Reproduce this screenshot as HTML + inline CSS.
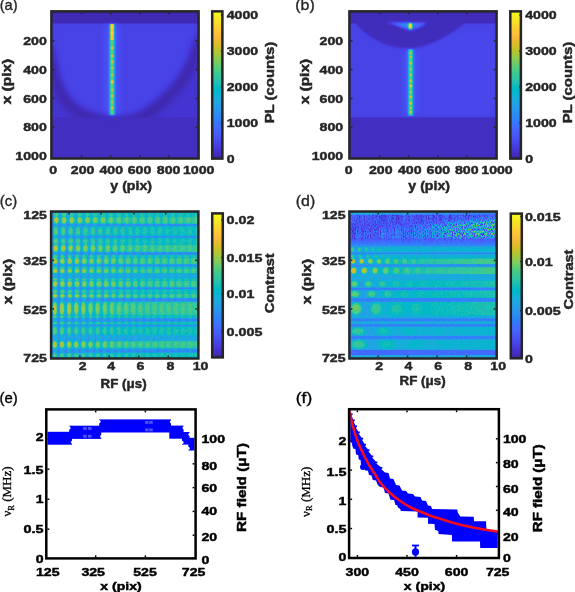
<!DOCTYPE html>
<html><head><meta charset="utf-8"><style>
html,body{margin:0;padding:0;background:#fff;width:575px;height:592px;overflow:hidden}
svg{display:block;filter:blur(0.35px)}
text{font-family:"Liberation Sans", sans-serif}
</style></head><body>
<svg width="575" height="592" viewBox="0 0 575 592">
<defs><linearGradient id="parv" x1="0" y1="0" x2="0" y2="1"><stop offset="0.0000" stop-color="#f9fb15"/><stop offset="0.0159" stop-color="#f7f51b"/><stop offset="0.0317" stop-color="#f6ef20"/><stop offset="0.0476" stop-color="#f5e924"/><stop offset="0.0635" stop-color="#f5e327"/><stop offset="0.0794" stop-color="#f7dc2a"/><stop offset="0.0952" stop-color="#fad62d"/><stop offset="0.1111" stop-color="#fccf30"/><stop offset="0.1270" stop-color="#fec934"/><stop offset="0.1429" stop-color="#fec338"/><stop offset="0.1587" stop-color="#febe3c"/><stop offset="0.1746" stop-color="#f8ba3d"/><stop offset="0.1905" stop-color="#f0ba36"/><stop offset="0.2063" stop-color="#e6bb2d"/><stop offset="0.2222" stop-color="#dcbd29"/><stop offset="0.2381" stop-color="#d1bf27"/><stop offset="0.2540" stop-color="#c5c22a"/><stop offset="0.2698" stop-color="#b9c431"/><stop offset="0.2857" stop-color="#abc739"/><stop offset="0.3016" stop-color="#9dc943"/><stop offset="0.3175" stop-color="#8fcb4e"/><stop offset="0.3333" stop-color="#81cc59"/><stop offset="0.3492" stop-color="#72cd64"/><stop offset="0.3651" stop-color="#64cd6f"/><stop offset="0.3810" stop-color="#57cc7a"/><stop offset="0.3968" stop-color="#4acb84"/><stop offset="0.4127" stop-color="#3fca8e"/><stop offset="0.4286" stop-color="#37c897"/><stop offset="0.4444" stop-color="#31c69f"/><stop offset="0.4603" stop-color="#2cc4a7"/><stop offset="0.4762" stop-color="#24c1ae"/><stop offset="0.4921" stop-color="#19bfb6"/><stop offset="0.5079" stop-color="#0bbdbd"/><stop offset="0.5238" stop-color="#02bac3"/><stop offset="0.5397" stop-color="#01b8ca"/><stop offset="0.5556" stop-color="#08b5d0"/><stop offset="0.5714" stop-color="#12b1d6"/><stop offset="0.5873" stop-color="#18addb"/><stop offset="0.6032" stop-color="#1ca9df"/><stop offset="0.6190" stop-color="#20a5e3"/><stop offset="0.6349" stop-color="#23a0e5"/><stop offset="0.6508" stop-color="#259be8"/><stop offset="0.6667" stop-color="#2797eb"/><stop offset="0.6825" stop-color="#2b91ef"/><stop offset="0.6984" stop-color="#2d8cf3"/><stop offset="0.7143" stop-color="#2e87f7"/><stop offset="0.7302" stop-color="#2f81fa"/><stop offset="0.7460" stop-color="#327cfc"/><stop offset="0.7619" stop-color="#3875fe"/><stop offset="0.7778" stop-color="#3e6fff"/><stop offset="0.7937" stop-color="#4269fe"/><stop offset="0.8095" stop-color="#4563fd"/><stop offset="0.8254" stop-color="#465efb"/><stop offset="0.8413" stop-color="#4758f8"/><stop offset="0.8571" stop-color="#4852f4"/><stop offset="0.8730" stop-color="#484df0"/><stop offset="0.8889" stop-color="#4747eb"/><stop offset="0.9048" stop-color="#4741e5"/><stop offset="0.9206" stop-color="#463cde"/><stop offset="0.9365" stop-color="#4537d5"/><stop offset="0.9524" stop-color="#4332cb"/><stop offset="0.9683" stop-color="#422ec0"/><stop offset="0.9841" stop-color="#402ab4"/><stop offset="1.0000" stop-color="#3e26a8"/></linearGradient>
<filter id="b1" x="-100%" y="-100%" width="300%" height="300%" color-interpolation-filters="sRGB"><feGaussianBlur stdDeviation="1"/></filter>
<filter id="b2" x="-100%" y="-100%" width="300%" height="300%" color-interpolation-filters="sRGB"><feGaussianBlur stdDeviation="2"/></filter>
<filter id="b3" x="-100%" y="-100%" width="300%" height="300%" color-interpolation-filters="sRGB"><feGaussianBlur stdDeviation="3"/></filter>
<filter id="b4" x="-100%" y="-100%" width="300%" height="300%" color-interpolation-filters="sRGB"><feGaussianBlur stdDeviation="4"/></filter>
<filter id="b05" x="-100%" y="-100%" width="300%" height="300%" color-interpolation-filters="sRGB"><feGaussianBlur stdDeviation="0.6"/></filter>
<filter id="pmap" filterUnits="userSpaceOnUse" x="0" y="0" width="575" height="592" color-interpolation-filters="sRGB"><feGaussianBlur stdDeviation="0.45"/><feComponentTransfer><feFuncR type="table" tableValues="0.2422 0.2504 0.2578 0.2647 0.2706 0.2751 0.2783 0.2803 0.2813 0.2810 0.2795 0.2760 0.2699 0.2602 0.2440 0.2206 0.1963 0.1834 0.1786 0.1764 0.1687 0.1540 0.1460 0.1380 0.1248 0.1113 0.0952 0.0689 0.0297 0.0036 0.0067 0.0433 0.0964 0.1408 0.1717 0.1938 0.2161 0.2470 0.2906 0.3406 0.3909 0.4456 0.5044 0.5616 0.6174 0.6720 0.7242 0.7738 0.8203 0.8634 0.9035 0.9393 0.9728 0.9956 0.9970 0.9952 0.9892 0.9786 0.9676 0.9610 0.9597 0.9628 0.9691 0.9769"/><feFuncG type="table" tableValues="0.1504 0.1650 0.1818 0.1978 0.2147 0.2342 0.2559 0.2782 0.3006 0.3228 0.3447 0.3667 0.3892 0.4123 0.4358 0.4603 0.4847 0.5074 0.5289 0.5499 0.5703 0.5902 0.6091 0.6276 0.6459 0.6635 0.6798 0.6948 0.7082 0.7203 0.7312 0.7411 0.7500 0.7584 0.7670 0.7758 0.7843 0.7918 0.7973 0.8008 0.8029 0.8024 0.7993 0.7942 0.7876 0.7793 0.7698 0.7598 0.7498 0.7406 0.7330 0.7288 0.7298 0.7434 0.7659 0.7893 0.8136 0.8386 0.8639 0.8890 0.9135 0.9373 0.9606 0.9839"/><feFuncB type="table" tableValues="0.6603 0.7076 0.7511 0.7952 0.8364 0.8710 0.8991 0.9221 0.9414 0.9579 0.9717 0.9829 0.9906 0.9952 0.9988 0.9973 0.9892 0.9798 0.9682 0.9520 0.9359 0.9218 0.9079 0.8973 0.8883 0.8763 0.8598 0.8394 0.8163 0.7917 0.7660 0.7394 0.7120 0.6842 0.6554 0.6251 0.5923 0.5567 0.5188 0.4789 0.4354 0.3909 0.3480 0.3045 0.2612 0.2227 0.1910 0.1646 0.1535 0.1596 0.1774 0.2100 0.2394 0.2371 0.2199 0.2028 0.1885 0.1766 0.1643 0.1537 0.1423 0.1265 0.1064 0.0805"/></feComponentTransfer></filter>
<filter id="pmap2" filterUnits="userSpaceOnUse" x="0" y="0" width="575" height="592" color-interpolation-filters="sRGB"><feGaussianBlur stdDeviation="0.7"/><feComponentTransfer><feFuncR type="table" tableValues="0.2422 0.2504 0.2578 0.2647 0.2706 0.2751 0.2783 0.2803 0.2813 0.2810 0.2795 0.2760 0.2699 0.2602 0.2440 0.2206 0.1963 0.1834 0.1786 0.1764 0.1687 0.1540 0.1460 0.1380 0.1248 0.1113 0.0952 0.0689 0.0297 0.0036 0.0067 0.0433 0.0964 0.1408 0.1717 0.1938 0.2161 0.2470 0.2906 0.3406 0.3909 0.4456 0.5044 0.5616 0.6174 0.6720 0.7242 0.7738 0.8203 0.8634 0.9035 0.9393 0.9728 0.9956 0.9970 0.9952 0.9892 0.9786 0.9676 0.9610 0.9597 0.9628 0.9691 0.9769"/><feFuncG type="table" tableValues="0.1504 0.1650 0.1818 0.1978 0.2147 0.2342 0.2559 0.2782 0.3006 0.3228 0.3447 0.3667 0.3892 0.4123 0.4358 0.4603 0.4847 0.5074 0.5289 0.5499 0.5703 0.5902 0.6091 0.6276 0.6459 0.6635 0.6798 0.6948 0.7082 0.7203 0.7312 0.7411 0.7500 0.7584 0.7670 0.7758 0.7843 0.7918 0.7973 0.8008 0.8029 0.8024 0.7993 0.7942 0.7876 0.7793 0.7698 0.7598 0.7498 0.7406 0.7330 0.7288 0.7298 0.7434 0.7659 0.7893 0.8136 0.8386 0.8639 0.8890 0.9135 0.9373 0.9606 0.9839"/><feFuncB type="table" tableValues="0.6603 0.7076 0.7511 0.7952 0.8364 0.8710 0.8991 0.9221 0.9414 0.9579 0.9717 0.9829 0.9906 0.9952 0.9988 0.9973 0.9892 0.9798 0.9682 0.9520 0.9359 0.9218 0.9079 0.8973 0.8883 0.8763 0.8598 0.8394 0.8163 0.7917 0.7660 0.7394 0.7120 0.6842 0.6554 0.6251 0.5923 0.5567 0.5188 0.4789 0.4354 0.3909 0.3480 0.3045 0.2612 0.2227 0.1910 0.1646 0.1535 0.1596 0.1774 0.2100 0.2394 0.2371 0.2199 0.2028 0.1885 0.1766 0.1643 0.1537 0.1423 0.1265 0.1064 0.0805"/></feComponentTransfer></filter>
<filter id="noiseD" x="0" y="0" width="100%" height="100%" color-interpolation-filters="sRGB"><feTurbulence type="fractalNoise" baseFrequency="0.85 0.55" numOctaves="2" seed="7" result="n"/><feColorMatrix in="n" type="matrix" values="0.7000 0 0 0 -0.2150 0.7000 0 0 0 -0.2150 0.7000 0 0 0 -0.2150 0 0 0 0 1"/></filter>
<filter id="noiseS" x="0" y="0" width="100%" height="100%" color-interpolation-filters="sRGB"><feTurbulence type="fractalNoise" baseFrequency="1.0 0.04" numOctaves="2" seed="5" result="n"/><feColorMatrix in="n" type="matrix" values="0.8000 0 0 0 -0.2500 0.8000 0 0 0 -0.2500 0.8000 0 0 0 -0.2500 0.0000 0 0 0 0.4500"/></filter>
<filter id="noiseY" x="0" y="0" width="100%" height="100%" color-interpolation-filters="sRGB"><feTurbulence type="fractalNoise" baseFrequency="0.9 0.45" numOctaves="2" seed="11" result="n"/><feColorMatrix in="n" type="matrix" values="0.8000 0 0 0 0.3600 0.8000 0 0 0 0.3600 0.8000 0 0 0 0.3600 4.0000 0 0 0 -1.4500"/></filter>
<linearGradient id="gdy" x1="0" y1="0" x2="1" y2="0"><stop offset="0" stop-color="#fff" stop-opacity="0.1"/><stop offset="0.45" stop-color="#fff" stop-opacity="0.2"/><stop offset="0.7" stop-color="#fff" stop-opacity="0.6"/><stop offset="1" stop-color="#fff" stop-opacity="0.7"/></linearGradient>
<mask id="mk_dy" maskUnits="userSpaceOnUse" x="340" y="200" width="170" height="60"><polygon points="350,232 497,218 497,238 350,246" fill="url(#gdy)" filter="url(#b2)"/></mask>
<filter id="texL" x="0" y="0" width="100%" height="100%" color-interpolation-filters="sRGB"><feTurbulence type="fractalNoise" baseFrequency="0.8 0.5" numOctaves="2" seed="21" result="n"/><feColorMatrix in="n" type="matrix" values="0 0 0 0 0.9000 0 0 0 0 0.9000 0 0 0 0 0.9000 2.2000 0 0 0 -1.0500"/></filter>
<filter id="texD" x="0" y="0" width="100%" height="100%" color-interpolation-filters="sRGB"><feTurbulence type="fractalNoise" baseFrequency="0.8 0.5" numOctaves="2" seed="33" result="n"/><feColorMatrix in="n" type="matrix" values="0 0 0 0 0.1500 0 0 0 0 0.1500 0 0 0 0 0.1500 2.2000 0 0 0 -1.0500"/></filter>
<clipPath id="clipa"><rect x="51.40" y="11.35" width="147.20" height="147.15"/></clipPath>
<clipPath id="clipb"><rect x="349.40" y="11.35" width="147.20" height="147.15"/></clipPath>
<radialGradient id="lensg" cx="0.5" cy="0.25" r="0.6"><stop offset="0" stop-color="#666666"/><stop offset="0.3" stop-color="#3d3d3d"/><stop offset="1" stop-color="#1f1f1f"/></radialGradient>
<clipPath id="clip_c"><rect x="51.10" y="211.50" width="147.30" height="147.00"/></clipPath>
<linearGradient id="bg_c_bright" x1="0" y1="0" x2="1" y2="0"><stop offset="0.000" stop-color="#616161"/><stop offset="0.400" stop-color="#808080"/><stop offset="1.000" stop-color="#8c8c8c"/></linearGradient>
<linearGradient id="bg_c_dim" x1="0" y1="0" x2="1" y2="0"><stop offset="0.000" stop-color="#5e5e5e"/><stop offset="0.400" stop-color="#737373"/><stop offset="1.000" stop-color="#7a7a7a"/></linearGradient>
<linearGradient id="fade_c" x1="0" y1="0" x2="1" y2="0"><stop offset="0.000" stop-color="#fff" stop-opacity="1.000"/><stop offset="0.300" stop-color="#fff" stop-opacity="0.700"/><stop offset="0.600" stop-color="#fff" stop-opacity="0.400"/><stop offset="1.000" stop-color="#fff" stop-opacity="0.250"/></linearGradient>
<mask id="mk_c" maskUnits="userSpaceOnUse" x="46.10" y="206.50" width="157.30" height="157.00"><rect x="51.10" y="206.50" width="147.30" height="157.00" fill="url(#fade_c)"/></mask>
<pattern id="vt1" patternUnits="userSpaceOnUse" x="58.300" y="0" width="7.300" height="600"><rect x="0" y="0" width="1.600" height="600" fill="#454545"/></pattern>
<radialGradient id="gpr2"><stop offset="0" stop-color="#a3a3a3"/><stop offset="0.55" stop-color="#a3a3a3" stop-opacity="0.9"/><stop offset="1" stop-color="#a3a3a3" stop-opacity="0"/></radialGradient>
<pattern id="gp2" patternUnits="userSpaceOnUse" x="52.510" y="212.800" width="7.780" height="3.800"><ellipse cx="3.890" cy="1.900" rx="3.423" ry="2.432" fill="url(#gpr2)"/></pattern>
<radialGradient id="gpr3"><stop offset="0" stop-color="#c4c4c4"/><stop offset="0.55" stop-color="#c4c4c4" stop-opacity="0.9"/><stop offset="1" stop-color="#c4c4c4" stop-opacity="0"/></radialGradient>
<pattern id="gp3" patternUnits="userSpaceOnUse" x="52.510" y="216.600" width="7.780" height="7.200"><ellipse cx="3.890" cy="3.600" rx="3.423" ry="4.608" fill="url(#gpr3)"/></pattern>
<radialGradient id="gpr4"><stop offset="0" stop-color="#6b6b6b"/><stop offset="0.55" stop-color="#6b6b6b" stop-opacity="0.9"/><stop offset="1" stop-color="#6b6b6b" stop-opacity="0"/></radialGradient>
<pattern id="gp4" patternUnits="userSpaceOnUse" x="52.510" y="223.900" width="7.780" height="2.400"><ellipse cx="3.890" cy="1.200" rx="3.423" ry="1.536" fill="url(#gpr4)"/></pattern>
<radialGradient id="gpr5"><stop offset="0" stop-color="#a3a3a3"/><stop offset="0.55" stop-color="#a3a3a3" stop-opacity="0.9"/><stop offset="1" stop-color="#a3a3a3" stop-opacity="0"/></radialGradient>
<pattern id="gp5" patternUnits="userSpaceOnUse" x="52.075" y="226.400" width="7.450" height="9.400"><ellipse cx="3.725" cy="4.700" rx="3.278" ry="6.016" fill="url(#gpr5)"/></pattern>
<radialGradient id="gpr6"><stop offset="0" stop-color="#6b6b6b"/><stop offset="0.55" stop-color="#6b6b6b" stop-opacity="0.9"/><stop offset="1" stop-color="#6b6b6b" stop-opacity="0"/></radialGradient>
<pattern id="gp6" patternUnits="userSpaceOnUse" x="52.075" y="235.900" width="7.450" height="2.100"><ellipse cx="3.725" cy="1.050" rx="3.278" ry="1.344" fill="url(#gpr6)"/></pattern>
<radialGradient id="gpr7"><stop offset="0" stop-color="#a3a3a3"/><stop offset="0.55" stop-color="#a3a3a3" stop-opacity="0.9"/><stop offset="1" stop-color="#a3a3a3" stop-opacity="0"/></radialGradient>
<pattern id="gp7" patternUnits="userSpaceOnUse" x="52.075" y="238.100" width="7.450" height="6.500"><ellipse cx="3.725" cy="3.250" rx="3.278" ry="4.160" fill="url(#gpr7)"/></pattern>
<radialGradient id="gpr8"><stop offset="0" stop-color="#c4c4c4"/><stop offset="0.55" stop-color="#c4c4c4" stop-opacity="0.9"/><stop offset="1" stop-color="#c4c4c4" stop-opacity="0"/></radialGradient>
<pattern id="gp8" patternUnits="userSpaceOnUse" x="52.075" y="244.600" width="7.450" height="7.400"><ellipse cx="3.725" cy="3.700" rx="3.278" ry="4.736" fill="url(#gpr8)"/></pattern>
<radialGradient id="gpr9"><stop offset="0" stop-color="#6b6b6b"/><stop offset="0.55" stop-color="#6b6b6b" stop-opacity="0.9"/><stop offset="1" stop-color="#6b6b6b" stop-opacity="0"/></radialGradient>
<pattern id="gp9" patternUnits="userSpaceOnUse" x="52.075" y="252.100" width="7.450" height="2.800"><ellipse cx="3.725" cy="1.400" rx="3.278" ry="1.792" fill="url(#gpr9)"/></pattern>
<radialGradient id="gpr10"><stop offset="0" stop-color="#a3a3a3"/><stop offset="0.55" stop-color="#a3a3a3" stop-opacity="0.9"/><stop offset="1" stop-color="#a3a3a3" stop-opacity="0"/></radialGradient>
<pattern id="gp10" patternUnits="userSpaceOnUse" x="51.460" y="255.000" width="7.280" height="2.800"><ellipse cx="3.640" cy="1.400" rx="3.203" ry="1.792" fill="url(#gpr10)"/></pattern>
<radialGradient id="gpr11"><stop offset="0" stop-color="#c4c4c4"/><stop offset="0.55" stop-color="#c4c4c4" stop-opacity="0.9"/><stop offset="1" stop-color="#c4c4c4" stop-opacity="0"/></radialGradient>
<pattern id="gp11" patternUnits="userSpaceOnUse" x="51.460" y="257.800" width="7.280" height="6.400"><ellipse cx="3.640" cy="3.200" rx="3.203" ry="4.096" fill="url(#gpr11)"/></pattern>
<radialGradient id="gpr12"><stop offset="0" stop-color="#6b6b6b"/><stop offset="0.55" stop-color="#6b6b6b" stop-opacity="0.9"/><stop offset="1" stop-color="#6b6b6b" stop-opacity="0"/></radialGradient>
<pattern id="gp12" patternUnits="userSpaceOnUse" x="51.460" y="264.400" width="7.280" height="2.200"><ellipse cx="3.640" cy="1.100" rx="3.203" ry="1.408" fill="url(#gpr12)"/></pattern>
<radialGradient id="gpr13"><stop offset="0" stop-color="#a3a3a3"/><stop offset="0.55" stop-color="#a3a3a3" stop-opacity="0.9"/><stop offset="1" stop-color="#a3a3a3" stop-opacity="0"/></radialGradient>
<pattern id="gp13" patternUnits="userSpaceOnUse" x="51.460" y="266.700" width="7.280" height="1.700"><ellipse cx="3.640" cy="0.850" rx="3.203" ry="1.088" fill="url(#gpr13)"/></pattern>
<radialGradient id="gpr14"><stop offset="0" stop-color="#c4c4c4"/><stop offset="0.55" stop-color="#c4c4c4" stop-opacity="0.9"/><stop offset="1" stop-color="#c4c4c4" stop-opacity="0"/></radialGradient>
<pattern id="gp14" patternUnits="userSpaceOnUse" x="51.460" y="268.400" width="7.280" height="5.000"><ellipse cx="3.640" cy="2.500" rx="3.203" ry="3.200" fill="url(#gpr14)"/></pattern>
<radialGradient id="gpr15"><stop offset="0" stop-color="#a3a3a3"/><stop offset="0.55" stop-color="#a3a3a3" stop-opacity="0.9"/><stop offset="1" stop-color="#a3a3a3" stop-opacity="0"/></radialGradient>
<pattern id="gp15" patternUnits="userSpaceOnUse" x="51.460" y="278.200" width="7.280" height="2.400"><ellipse cx="3.640" cy="1.200" rx="3.203" ry="1.536" fill="url(#gpr15)"/></pattern>
<radialGradient id="gpr16"><stop offset="0" stop-color="#c4c4c4"/><stop offset="0.55" stop-color="#c4c4c4" stop-opacity="0.9"/><stop offset="1" stop-color="#c4c4c4" stop-opacity="0"/></radialGradient>
<pattern id="gp16" patternUnits="userSpaceOnUse" x="51.460" y="280.600" width="7.280" height="6.600"><ellipse cx="3.640" cy="3.300" rx="3.203" ry="4.224" fill="url(#gpr16)"/></pattern>
<radialGradient id="gpr17"><stop offset="0" stop-color="#6b6b6b"/><stop offset="0.55" stop-color="#6b6b6b" stop-opacity="0.9"/><stop offset="1" stop-color="#6b6b6b" stop-opacity="0"/></radialGradient>
<pattern id="gp17" patternUnits="userSpaceOnUse" x="51.460" y="287.300" width="7.280" height="2.000"><ellipse cx="3.640" cy="1.000" rx="3.203" ry="1.280" fill="url(#gpr17)"/></pattern>
<radialGradient id="gpr18"><stop offset="0" stop-color="#a3a3a3"/><stop offset="0.55" stop-color="#a3a3a3" stop-opacity="0.9"/><stop offset="1" stop-color="#a3a3a3" stop-opacity="0"/></radialGradient>
<pattern id="gp18" patternUnits="userSpaceOnUse" x="51.460" y="289.400" width="7.280" height="4.500"><ellipse cx="3.640" cy="2.250" rx="3.203" ry="2.880" fill="url(#gpr18)"/></pattern>
<radialGradient id="gpr19"><stop offset="0" stop-color="#c4c4c4"/><stop offset="0.55" stop-color="#c4c4c4" stop-opacity="0.9"/><stop offset="1" stop-color="#c4c4c4" stop-opacity="0"/></radialGradient>
<pattern id="gp19" patternUnits="userSpaceOnUse" x="51.460" y="293.900" width="7.280" height="3.900"><ellipse cx="3.640" cy="1.950" rx="3.203" ry="2.496" fill="url(#gpr19)"/></pattern>
<radialGradient id="gpr20"><stop offset="0" stop-color="#6b6b6b"/><stop offset="0.55" stop-color="#6b6b6b" stop-opacity="0.9"/><stop offset="1" stop-color="#6b6b6b" stop-opacity="0"/></radialGradient>
<pattern id="gp20" patternUnits="userSpaceOnUse" x="51.460" y="298.000" width="7.280" height="3.600"><ellipse cx="3.640" cy="1.800" rx="3.203" ry="2.304" fill="url(#gpr20)"/></pattern>
<radialGradient id="gpr21"><stop offset="0" stop-color="#c4c4c4"/><stop offset="0.55" stop-color="#c4c4c4" stop-opacity="0.9"/><stop offset="1" stop-color="#c4c4c4" stop-opacity="0"/></radialGradient>
<pattern id="gp21" patternUnits="userSpaceOnUse" x="51.240" y="301.800" width="7.120" height="13.800"><ellipse cx="3.560" cy="6.900" rx="3.133" ry="8.832" fill="url(#gpr21)"/></pattern>
<radialGradient id="gpr22"><stop offset="0" stop-color="#a3a3a3"/><stop offset="0.55" stop-color="#a3a3a3" stop-opacity="0.9"/><stop offset="1" stop-color="#a3a3a3" stop-opacity="0"/></radialGradient>
<pattern id="gp22" patternUnits="userSpaceOnUse" x="51.240" y="315.600" width="7.120" height="2.400"><ellipse cx="3.560" cy="1.200" rx="3.133" ry="1.536" fill="url(#gpr22)"/></pattern>
<radialGradient id="gpr23"><stop offset="0" stop-color="#6b6b6b"/><stop offset="0.55" stop-color="#6b6b6b" stop-opacity="0.9"/><stop offset="1" stop-color="#6b6b6b" stop-opacity="0"/></radialGradient>
<pattern id="gp23" patternUnits="userSpaceOnUse" x="51.240" y="318.200" width="7.120" height="3.500"><ellipse cx="3.560" cy="1.750" rx="3.133" ry="2.240" fill="url(#gpr23)"/></pattern>
<radialGradient id="gpr24"><stop offset="0" stop-color="#a3a3a3"/><stop offset="0.55" stop-color="#a3a3a3" stop-opacity="0.9"/><stop offset="1" stop-color="#a3a3a3" stop-opacity="0"/></radialGradient>
<pattern id="gp24" patternUnits="userSpaceOnUse" x="51.240" y="321.900" width="7.120" height="2.600"><ellipse cx="3.560" cy="1.300" rx="3.133" ry="1.664" fill="url(#gpr24)"/></pattern>
<radialGradient id="gpr25"><stop offset="0" stop-color="#6b6b6b"/><stop offset="0.55" stop-color="#6b6b6b" stop-opacity="0.9"/><stop offset="1" stop-color="#6b6b6b" stop-opacity="0"/></radialGradient>
<pattern id="gp25" patternUnits="userSpaceOnUse" x="51.240" y="324.600" width="7.120" height="1.900"><ellipse cx="3.560" cy="0.950" rx="3.133" ry="1.216" fill="url(#gpr25)"/></pattern>
<radialGradient id="gpr26"><stop offset="0" stop-color="#a3a3a3"/><stop offset="0.55" stop-color="#a3a3a3" stop-opacity="0.9"/><stop offset="1" stop-color="#a3a3a3" stop-opacity="0"/></radialGradient>
<pattern id="gp26" patternUnits="userSpaceOnUse" x="51.240" y="326.600" width="7.120" height="8.600"><ellipse cx="3.560" cy="4.300" rx="3.133" ry="5.504" fill="url(#gpr26)"/></pattern>
<radialGradient id="gpr27"><stop offset="0" stop-color="#c4c4c4"/><stop offset="0.55" stop-color="#c4c4c4" stop-opacity="0.9"/><stop offset="1" stop-color="#c4c4c4" stop-opacity="0"/></radialGradient>
<pattern id="gp27" patternUnits="userSpaceOnUse" x="51.240" y="341.000" width="7.120" height="7.200"><ellipse cx="3.560" cy="3.600" rx="3.133" ry="4.608" fill="url(#gpr27)"/></pattern>
<radialGradient id="gpr28"><stop offset="0" stop-color="#6b6b6b"/><stop offset="0.55" stop-color="#6b6b6b" stop-opacity="0.9"/><stop offset="1" stop-color="#6b6b6b" stop-opacity="0"/></radialGradient>
<pattern id="gp28" patternUnits="userSpaceOnUse" x="51.240" y="349.000" width="7.120" height="3.600"><ellipse cx="3.560" cy="1.800" rx="3.133" ry="2.304" fill="url(#gpr28)"/></pattern>
<radialGradient id="gpr29"><stop offset="0" stop-color="#a3a3a3"/><stop offset="0.55" stop-color="#a3a3a3" stop-opacity="0.9"/><stop offset="1" stop-color="#a3a3a3" stop-opacity="0"/></radialGradient>
<pattern id="gp29" patternUnits="userSpaceOnUse" x="51.240" y="353.000" width="7.120" height="4.500"><ellipse cx="3.560" cy="2.250" rx="3.133" ry="2.880" fill="url(#gpr29)"/></pattern>
<clipPath id="clip_d"><rect x="349.40" y="211.50" width="147.30" height="147.00"/></clipPath>
<linearGradient id="bg_d_bright" x1="0" y1="0" x2="1" y2="0"><stop offset="0.000" stop-color="#4f4f4f"/><stop offset="0.250" stop-color="#7a7a7a"/><stop offset="1.000" stop-color="#999999"/></linearGradient>
<linearGradient id="bg_d_mid" x1="0" y1="0" x2="1" y2="0"><stop offset="0.000" stop-color="#4f4f4f"/><stop offset="0.250" stop-color="#707070"/><stop offset="1.000" stop-color="#858585"/></linearGradient>
<linearGradient id="bg_d_dim" x1="0" y1="0" x2="1" y2="0"><stop offset="0.000" stop-color="#525252"/><stop offset="0.250" stop-color="#696969"/><stop offset="1.000" stop-color="#707070"/></linearGradient>
<linearGradient id="fade_d" x1="0" y1="0" x2="1" y2="0"><stop offset="0.000" stop-color="#fff" stop-opacity="1.000"/><stop offset="0.120" stop-color="#fff" stop-opacity="0.800"/><stop offset="0.300" stop-color="#fff" stop-opacity="0.350"/><stop offset="0.550" stop-color="#fff" stop-opacity="0.100"/><stop offset="1.000" stop-color="#fff" stop-opacity="0.000"/></linearGradient>
<mask id="mk_d" maskUnits="userSpaceOnUse" x="344.40" y="206.50" width="157.30" height="157.00"><rect x="349.40" y="206.50" width="147.30" height="157.00" fill="url(#fade_d)"/></mask>
<radialGradient id="gpr30"><stop offset="0" stop-color="#999999"/><stop offset="0.55" stop-color="#999999" stop-opacity="0.9"/><stop offset="1" stop-color="#999999" stop-opacity="0"/></radialGradient>
<pattern id="gp30" patternUnits="userSpaceOnUse" x="349.208" y="246.500" width="6.783" height="5.800"><ellipse cx="3.391" cy="2.900" rx="2.442" ry="3.480" fill="url(#gpr30)"/></pattern>
<radialGradient id="gpr31"><stop offset="0" stop-color="#999999"/><stop offset="0.55" stop-color="#999999" stop-opacity="0.9"/><stop offset="1" stop-color="#999999" stop-opacity="0"/></radialGradient>
<pattern id="gp31" patternUnits="userSpaceOnUse" x="349.043" y="254.500" width="7.533" height="4.000"><ellipse cx="3.766" cy="2.000" rx="2.712" ry="2.400" fill="url(#gpr31)"/></pattern>
<radialGradient id="gpr32"><stop offset="0" stop-color="#d6d6d6"/><stop offset="0.55" stop-color="#d6d6d6" stop-opacity="0.9"/><stop offset="1" stop-color="#d6d6d6" stop-opacity="0"/></radialGradient>
<pattern id="gp32" patternUnits="userSpaceOnUse" x="348.805" y="258.500" width="8.612" height="5.500"><ellipse cx="4.306" cy="2.750" rx="3.100" ry="3.300" fill="url(#gpr32)"/></pattern>
<radialGradient id="gpr33"><stop offset="0" stop-color="#d6d6d6"/><stop offset="0.55" stop-color="#d6d6d6" stop-opacity="0.9"/><stop offset="1" stop-color="#d6d6d6" stop-opacity="0"/></radialGradient>
<pattern id="gp33" patternUnits="userSpaceOnUse" x="348.348" y="267.200" width="10.689" height="6.800"><ellipse cx="5.345" cy="3.400" rx="3.848" ry="4.080" fill="url(#gpr33)"/></pattern>
<radialGradient id="gpr34"><stop offset="0" stop-color="#adadad"/><stop offset="0.55" stop-color="#adadad" stop-opacity="0.9"/><stop offset="1" stop-color="#adadad" stop-opacity="0"/></radialGradient>
<pattern id="gp34" patternUnits="userSpaceOnUse" x="347.652" y="280.500" width="13.856" height="6.800"><ellipse cx="6.928" cy="3.400" rx="4.988" ry="4.080" fill="url(#gpr34)"/></pattern>
<radialGradient id="gpr35"><stop offset="0" stop-color="#adadad"/><stop offset="0.55" stop-color="#adadad" stop-opacity="0.9"/><stop offset="1" stop-color="#adadad" stop-opacity="0"/></radialGradient>
<pattern id="gp35" patternUnits="userSpaceOnUse" x="347.101" y="290.500" width="16.359" height="7.100"><ellipse cx="8.179" cy="3.550" rx="5.889" ry="4.260" fill="url(#gpr35)"/></pattern>
<radialGradient id="gpr36"><stop offset="0" stop-color="#adadad"/><stop offset="0.55" stop-color="#adadad" stop-opacity="0.9"/><stop offset="1" stop-color="#adadad" stop-opacity="0"/></radialGradient>
<pattern id="gp36" patternUnits="userSpaceOnUse" x="346.290" y="302.000" width="20.047" height="13.500"><ellipse cx="10.024" cy="6.750" rx="7.217" ry="8.100" fill="url(#gpr36)"/></pattern>
<radialGradient id="gpr37"><stop offset="0" stop-color="#999999"/><stop offset="0.55" stop-color="#999999" stop-opacity="0.9"/><stop offset="1" stop-color="#999999" stop-opacity="0"/></radialGradient>
<pattern id="gp37" patternUnits="userSpaceOnUse" x="345.006" y="327.000" width="25.883" height="8.500"><ellipse cx="12.941" cy="4.250" rx="9.318" ry="5.100" fill="url(#gpr37)"/></pattern>
<radialGradient id="gpr38"><stop offset="0" stop-color="#999999"/><stop offset="0.55" stop-color="#999999" stop-opacity="0.9"/><stop offset="1" stop-color="#999999" stop-opacity="0"/></radialGradient>
<pattern id="gp38" patternUnits="userSpaceOnUse" x="344.343" y="339.500" width="28.893" height="10.000"><ellipse cx="14.447" cy="5.000" rx="10.402" ry="6.000" fill="url(#gpr38)"/></pattern>
<linearGradient id="dtop" x1="0" y1="0" x2="1" y2="0"><stop offset="0.000" stop-color="#808080"/><stop offset="0.500" stop-color="#6b6b6b"/><stop offset="1.000" stop-color="#4c4c4c"/></linearGradient>
<linearGradient id="dbot" x1="0" y1="0" x2="0" y2="1"><stop offset="0.000" stop-color="#1f1f1f"/><stop offset="1.000" stop-color="#525252"/></linearGradient>
<clipPath id="clip_e"><rect x="47.50" y="410.60" width="146.90" height="146.60"/></clipPath>
<clipPath id="clip_f"><rect x="350.30" y="410.40" width="147.40" height="146.40"/></clipPath></defs>
<g clip-path="url(#clipa)"><g filter="url(#pmap)">
<rect x="46.40" y="6.35" width="157.20" height="157.15" fill="#0f0f0f"/>
<path d="M51.00,40.00 C51.33,43.00 52.00,51.67 53.00,58.00 C54.00,64.33 55.17,72.00 57.00,78.00 C58.83,84.00 61.00,89.33 64.00,94.00 C67.00,98.67 70.33,102.50 75.00,106.00 C79.67,109.50 85.33,112.83 92.00,115.00 C98.67,117.17 107.83,119.00 115.00,119.00 C122.17,119.00 129.17,117.17 135.00,115.00 C140.83,112.83 145.17,109.50 150.00,106.00 C154.83,102.50 159.33,98.50 164.00,94.00 C168.67,89.50 173.83,84.33 178.00,79.00 C182.17,73.67 185.83,67.67 189.00,62.00 C192.17,56.33 195.33,50.33 197.00,45.00 C198.67,39.67 198.67,32.50 199.00,30.00 L199,20 L51,20 Z" fill="#1a1a1a" filter="url(#b3)"/>
<path d="M48.00,48.00 C48.50,50.00 49.83,55.00 51.00,60.00 C52.17,65.00 53.33,72.50 55.00,78.00 C56.67,83.50 58.50,88.50 61.00,93.00 C63.50,97.50 66.50,101.50 70.00,105.00 C73.50,108.50 77.00,111.50 82.00,114.00 C87.00,116.50 93.67,118.67 100.00,120.00 C106.33,121.33 113.33,122.33 120.00,122.00 C126.67,121.67 134.17,120.33 140.00,118.00 C145.83,115.67 150.17,111.67 155.00,108.00 C159.83,104.33 164.67,100.33 169.00,96.00 C173.33,91.67 177.50,86.83 181.00,82.00 C184.50,77.17 187.50,72.00 190.00,67.00 C192.50,62.00 194.33,56.83 196.00,52.00 C197.67,47.17 199.33,40.33 200.00,38.00" fill="none" stroke="#010101" stroke-width="10" filter="url(#b3)" opacity="0.95"/>
<rect x="46.40" y="117.30" width="157.20" height="46.20" fill="#090909"/>
<rect x="46.40" y="6.35" width="157.20" height="17.05" fill="#040404"/>
<rect x="105.10" y="25.40" width="14" height="88.10" fill="#333333" opacity="0.5" filter="url(#b3)"/>
<rect x="109.10" y="24.40" width="6" height="90.10" fill="#545454" opacity="0.85" filter="url(#b1)"/>
<rect x="109.70" y="23.90" width="4.8" height="91.10" fill="#787878" filter="url(#b05)"/>
<rect x="110.60" y="24.40" width="3.0" height="90.10" fill="#9e9e9e" filter="url(#b05)"/>
<rect x="110.60" y="24.00" width="3.0" height="16.00" fill="#d6d6d6" filter="url(#b05)"/>
<ellipse cx="112.10" cy="27.00" rx="1.5" ry="1.80" fill="#ebebeb" filter="url(#b05)"/>
<ellipse cx="112.10" cy="33.00" rx="1.5" ry="1.80" fill="#e6e6e6" filter="url(#b05)"/>
<ellipse cx="112.10" cy="38.00" rx="1.5" ry="1.60" fill="#dbdbdb" filter="url(#b05)"/>
<ellipse cx="112.10" cy="48.00" rx="1.5" ry="1.40" fill="#c7c7c7" filter="url(#b05)"/>
<ellipse cx="112.10" cy="56.00" rx="1.5" ry="1.40" fill="#c2c2c2" filter="url(#b05)"/>
<ellipse cx="112.10" cy="62.00" rx="1.5" ry="1.40" fill="#c7c7c7" filter="url(#b05)"/>
<ellipse cx="112.10" cy="68.00" rx="1.5" ry="1.30" fill="#bfbfbf" filter="url(#b05)"/>
<ellipse cx="112.10" cy="75.00" rx="1.5" ry="1.30" fill="#bdbdbd" filter="url(#b05)"/>
<ellipse cx="112.10" cy="82.00" rx="1.5" ry="1.80" fill="#dbdbdb" filter="url(#b05)"/>
<ellipse cx="112.10" cy="90.00" rx="1.5" ry="1.30" fill="#bfbfbf" filter="url(#b05)"/>
<ellipse cx="112.10" cy="96.00" rx="1.5" ry="1.40" fill="#c7c7c7" filter="url(#b05)"/>
<ellipse cx="112.10" cy="102.00" rx="1.5" ry="1.30" fill="#b8b8b8" filter="url(#b05)"/>
<ellipse cx="112.10" cy="108.00" rx="1.5" ry="1.40" fill="#c7c7c7" filter="url(#b05)"/>
</g></g>
<text x="53.20" y="174.20" font-size="11.60" font-weight="bold" text-anchor="middle" fill="#262626" stroke="#262626" stroke-width="0.45" textLength="7.86" lengthAdjust="spacingAndGlyphs">0</text>
<line x1="81.60" y1="157.30" x2="81.60" y2="155.50" stroke="#262626" stroke-width="1.50"/>
<line x1="81.60" y1="12.55" x2="81.60" y2="14.35" stroke="#262626" stroke-width="1.50"/>
<text x="82.60" y="174.20" font-size="11.60" font-weight="bold" text-anchor="middle" fill="#262626" stroke="#262626" stroke-width="0.45" textLength="23.59" lengthAdjust="spacingAndGlyphs">200</text>
<line x1="110.70" y1="157.30" x2="110.70" y2="155.50" stroke="#262626" stroke-width="1.50"/>
<line x1="110.70" y1="12.55" x2="110.70" y2="14.35" stroke="#262626" stroke-width="1.50"/>
<text x="111.30" y="174.20" font-size="11.60" font-weight="bold" text-anchor="middle" fill="#262626" stroke="#262626" stroke-width="0.45" textLength="23.59" lengthAdjust="spacingAndGlyphs">400</text>
<line x1="139.80" y1="157.30" x2="139.80" y2="155.50" stroke="#262626" stroke-width="1.50"/>
<line x1="139.80" y1="12.55" x2="139.80" y2="14.35" stroke="#262626" stroke-width="1.50"/>
<text x="139.50" y="174.20" font-size="11.60" font-weight="bold" text-anchor="middle" fill="#262626" stroke="#262626" stroke-width="0.45" textLength="23.59" lengthAdjust="spacingAndGlyphs">600</text>
<line x1="168.90" y1="157.30" x2="168.90" y2="155.50" stroke="#262626" stroke-width="1.50"/>
<line x1="168.90" y1="12.55" x2="168.90" y2="14.35" stroke="#262626" stroke-width="1.50"/>
<text x="168.60" y="174.20" font-size="11.60" font-weight="bold" text-anchor="middle" fill="#262626" stroke="#262626" stroke-width="0.45" textLength="23.59" lengthAdjust="spacingAndGlyphs">800</text>
<text x="198.70" y="174.20" font-size="11.60" font-weight="bold" text-anchor="middle" fill="#262626" stroke="#262626" stroke-width="0.45" textLength="31.46" lengthAdjust="spacingAndGlyphs">1000</text>
<line x1="52.60" y1="40.80" x2="54.40" y2="40.80" stroke="#262626" stroke-width="1.50"/>
<line x1="197.40" y1="40.80" x2="195.60" y2="40.80" stroke="#262626" stroke-width="1.50"/>
<text x="46.80" y="44.90" font-size="11.60" font-weight="bold" text-anchor="end" fill="#262626" stroke="#262626" stroke-width="0.45" textLength="23.59" lengthAdjust="spacingAndGlyphs">200</text>
<line x1="52.60" y1="69.60" x2="54.40" y2="69.60" stroke="#262626" stroke-width="1.50"/>
<line x1="197.40" y1="69.60" x2="195.60" y2="69.60" stroke="#262626" stroke-width="1.50"/>
<text x="46.80" y="73.70" font-size="11.60" font-weight="bold" text-anchor="end" fill="#262626" stroke="#262626" stroke-width="0.45" textLength="23.59" lengthAdjust="spacingAndGlyphs">400</text>
<line x1="52.60" y1="98.40" x2="54.40" y2="98.40" stroke="#262626" stroke-width="1.50"/>
<line x1="197.40" y1="98.40" x2="195.60" y2="98.40" stroke="#262626" stroke-width="1.50"/>
<text x="46.80" y="102.50" font-size="11.60" font-weight="bold" text-anchor="end" fill="#262626" stroke="#262626" stroke-width="0.45" textLength="23.59" lengthAdjust="spacingAndGlyphs">600</text>
<line x1="52.60" y1="127.20" x2="54.40" y2="127.20" stroke="#262626" stroke-width="1.50"/>
<line x1="197.40" y1="127.20" x2="195.60" y2="127.20" stroke="#262626" stroke-width="1.50"/>
<text x="46.80" y="131.30" font-size="11.60" font-weight="bold" text-anchor="end" fill="#262626" stroke="#262626" stroke-width="0.45" textLength="23.59" lengthAdjust="spacingAndGlyphs">800</text>
<text x="46.80" y="160.10" font-size="11.60" font-weight="bold" text-anchor="end" fill="#262626" stroke="#262626" stroke-width="0.45" textLength="31.46" lengthAdjust="spacingAndGlyphs">1000</text>
<rect x="51.40" y="11.35" width="147.20" height="147.15" fill="none" stroke="#262626" stroke-width="2.50"/>
<text x="131.20" y="189.50" font-size="12.20" font-weight="bold" text-anchor="middle" fill="#262626" stroke="#262626" stroke-width="0.45" textLength="41.70" lengthAdjust="spacingAndGlyphs">y (pix)</text>
<text x="11.30" y="81.60" font-size="12.20" font-weight="bold" text-anchor="middle" fill="#262626" stroke="#262626" stroke-width="0.45" textLength="45.50" lengthAdjust="spacingAndGlyphs" transform="rotate(-90 11.30 81.60)">x (pix)</text>
<rect x="212.20" y="11.35" width="10.20" height="147.25" fill="url(#parv)"/>
<line x1="220.80" y1="123.00" x2="222.40" y2="123.00" stroke="#262626" stroke-width="1.50"/>
<line x1="220.80" y1="86.80" x2="222.40" y2="86.80" stroke="#262626" stroke-width="1.50"/>
<line x1="220.80" y1="51.30" x2="222.40" y2="51.30" stroke="#262626" stroke-width="1.50"/>
<line x1="220.80" y1="15.10" x2="222.40" y2="15.10" stroke="#262626" stroke-width="1.50"/>
<rect x="212.20" y="11.35" width="10.20" height="147.25" fill="none" stroke="#262626" stroke-width="2.50"/>
<text x="226.70" y="163.10" font-size="11.60" font-weight="bold" text-anchor="start" fill="#262626" stroke="#262626" stroke-width="0.45" textLength="7.86" lengthAdjust="spacingAndGlyphs">0</text>
<text x="226.70" y="127.10" font-size="11.60" font-weight="bold" text-anchor="start" fill="#262626" stroke="#262626" stroke-width="0.45" textLength="31.46" lengthAdjust="spacingAndGlyphs">1000</text>
<text x="226.70" y="90.90" font-size="11.60" font-weight="bold" text-anchor="start" fill="#262626" stroke="#262626" stroke-width="0.45" textLength="31.46" lengthAdjust="spacingAndGlyphs">2000</text>
<text x="226.70" y="55.40" font-size="11.60" font-weight="bold" text-anchor="start" fill="#262626" stroke="#262626" stroke-width="0.45" textLength="31.46" lengthAdjust="spacingAndGlyphs">3000</text>
<text x="226.70" y="19.20" font-size="11.60" font-weight="bold" text-anchor="start" fill="#262626" stroke="#262626" stroke-width="0.45" textLength="31.46" lengthAdjust="spacingAndGlyphs">4000</text>
<text x="274.40" y="82.50" font-size="12.80" font-weight="bold" text-anchor="middle" fill="#262626" stroke="#262626" stroke-width="0.45" textLength="81.70" lengthAdjust="spacingAndGlyphs" transform="rotate(-90 274.40 82.50)">PL (counts)</text>
<g clip-path="url(#clipb)"><g filter="url(#pmap)">
<rect x="344.40" y="6.35" width="157.20" height="157.15" fill="#1a1a1a"/>
<rect x="420" y="30" width="75" height="85" fill="#202020" filter="url(#b4)" opacity="0.6"/>
<rect x="344.40" y="117.30" width="157.20" height="46.20" fill="#090909"/>
<rect x="344.40" y="6.35" width="157.20" height="17.05" fill="#060606"/>
<path d="M351.00,14.00 C351.50,15.00 353.10,18.45 354.00,20.00 C354.90,21.55 355.23,21.80 356.40,23.30 C357.57,24.80 359.25,27.18 361.00,29.00 C362.75,30.82 364.18,32.28 366.90,34.20 C369.62,36.12 374.12,38.78 377.30,40.50 C380.48,42.22 382.55,43.37 386.00,44.50 C389.45,45.63 394.00,46.67 398.00,47.30 C402.00,47.93 406.17,48.38 410.00,48.30 C413.83,48.22 417.33,47.68 421.00,46.80 C424.67,45.92 428.25,44.53 432.00,43.00 C435.75,41.47 439.83,39.60 443.50,37.60 C447.17,35.60 451.08,32.93 454.00,31.00 C456.92,29.07 459.28,27.27 461.00,26.00 C462.72,24.73 463.47,24.40 464.30,23.40 C465.13,22.40 465.72,20.57 466.00,20.00 L466,12 L351,12 Z" fill="#070707" filter="url(#b1)"/>
<path d="M386.30,23.00 C387.75,23.33 392.22,24.12 395.00,25.00 C397.78,25.88 400.45,27.30 403.00,28.30 C405.55,29.30 407.80,31.00 410.30,31.00 C412.80,31.00 415.72,29.30 418.00,28.30 C420.28,27.30 422.50,25.88 424.00,25.00 C425.50,24.12 426.50,23.33 427.00,23.00 L427,22.6 L386.3,22.6 Z" fill="url(#lensg)" filter="url(#b1)"/>
<ellipse cx="410.3" cy="26.2" rx="2.8" ry="3.4" fill="#8c8c8c" filter="url(#b05)"/>
<ellipse cx="410.3" cy="26" rx="1.6" ry="2.4" fill="#e6e6e6" filter="url(#b05)"/>
<rect x="403.70" y="51.00" width="14" height="63.00" fill="#333333" opacity="0.5" filter="url(#b3)"/>
<rect x="407.70" y="50.00" width="6" height="65.00" fill="#545454" opacity="0.85" filter="url(#b1)"/>
<rect x="408.30" y="49.50" width="4.8" height="66.00" fill="#787878" filter="url(#b05)"/>
<rect x="409.20" y="50.00" width="3.0" height="65.00" fill="#999999" filter="url(#b05)"/>
<ellipse cx="410.70" cy="53.00" rx="1.5" ry="1.30" fill="#b2b2b2" filter="url(#b05)"/>
<ellipse cx="410.70" cy="57.00" rx="1.5" ry="1.30" fill="#b8b8b8" filter="url(#b05)"/>
<ellipse cx="410.70" cy="63.00" rx="1.5" ry="1.40" fill="#c2c2c2" filter="url(#b05)"/>
<ellipse cx="410.70" cy="69.00" rx="1.5" ry="1.30" fill="#b2b2b2" filter="url(#b05)"/>
<ellipse cx="410.70" cy="75.00" rx="1.5" ry="1.30" fill="#bdbdbd" filter="url(#b05)"/>
<ellipse cx="410.70" cy="81.00" rx="1.5" ry="1.40" fill="#c2c2c2" filter="url(#b05)"/>
<ellipse cx="410.70" cy="86.00" rx="1.5" ry="1.60" fill="#d6d6d6" filter="url(#b05)"/>
<ellipse cx="410.70" cy="92.00" rx="1.5" ry="1.30" fill="#bdbdbd" filter="url(#b05)"/>
<ellipse cx="410.70" cy="97.00" rx="1.5" ry="1.40" fill="#c2c2c2" filter="url(#b05)"/>
<ellipse cx="410.70" cy="103.00" rx="1.5" ry="1.50" fill="#c7c7c7" filter="url(#b05)"/>
<ellipse cx="410.70" cy="108.00" rx="1.5" ry="1.30" fill="#b8b8b8" filter="url(#b05)"/>
<ellipse cx="410.70" cy="112.00" rx="1.5" ry="1.40" fill="#c2c2c2" filter="url(#b05)"/>
</g></g>
<text x="348.80" y="174.20" font-size="11.60" font-weight="bold" text-anchor="middle" fill="#262626" stroke="#262626" stroke-width="0.45" textLength="7.86" lengthAdjust="spacingAndGlyphs">0</text>
<line x1="379.60" y1="157.30" x2="379.60" y2="155.50" stroke="#262626" stroke-width="1.50"/>
<line x1="379.60" y1="12.55" x2="379.60" y2="14.35" stroke="#262626" stroke-width="1.50"/>
<text x="380.80" y="174.20" font-size="11.60" font-weight="bold" text-anchor="middle" fill="#262626" stroke="#262626" stroke-width="0.45" textLength="23.59" lengthAdjust="spacingAndGlyphs">200</text>
<line x1="408.70" y1="157.30" x2="408.70" y2="155.50" stroke="#262626" stroke-width="1.50"/>
<line x1="408.70" y1="12.55" x2="408.70" y2="14.35" stroke="#262626" stroke-width="1.50"/>
<text x="409.80" y="174.20" font-size="11.60" font-weight="bold" text-anchor="middle" fill="#262626" stroke="#262626" stroke-width="0.45" textLength="23.59" lengthAdjust="spacingAndGlyphs">400</text>
<line x1="437.80" y1="157.30" x2="437.80" y2="155.50" stroke="#262626" stroke-width="1.50"/>
<line x1="437.80" y1="12.55" x2="437.80" y2="14.35" stroke="#262626" stroke-width="1.50"/>
<text x="438.40" y="174.20" font-size="11.60" font-weight="bold" text-anchor="middle" fill="#262626" stroke="#262626" stroke-width="0.45" textLength="23.59" lengthAdjust="spacingAndGlyphs">600</text>
<line x1="466.90" y1="157.30" x2="466.90" y2="155.50" stroke="#262626" stroke-width="1.50"/>
<line x1="466.90" y1="12.55" x2="466.90" y2="14.35" stroke="#262626" stroke-width="1.50"/>
<text x="466.80" y="174.20" font-size="11.60" font-weight="bold" text-anchor="middle" fill="#262626" stroke="#262626" stroke-width="0.45" textLength="23.59" lengthAdjust="spacingAndGlyphs">800</text>
<text x="497.00" y="174.20" font-size="11.60" font-weight="bold" text-anchor="middle" fill="#262626" stroke="#262626" stroke-width="0.45" textLength="31.46" lengthAdjust="spacingAndGlyphs">1000</text>
<line x1="350.60" y1="40.80" x2="352.40" y2="40.80" stroke="#262626" stroke-width="1.50"/>
<line x1="495.40" y1="40.80" x2="493.60" y2="40.80" stroke="#262626" stroke-width="1.50"/>
<text x="343.20" y="44.90" font-size="11.60" font-weight="bold" text-anchor="end" fill="#262626" stroke="#262626" stroke-width="0.45" textLength="23.59" lengthAdjust="spacingAndGlyphs">200</text>
<line x1="350.60" y1="69.60" x2="352.40" y2="69.60" stroke="#262626" stroke-width="1.50"/>
<line x1="495.40" y1="69.60" x2="493.60" y2="69.60" stroke="#262626" stroke-width="1.50"/>
<text x="343.20" y="73.70" font-size="11.60" font-weight="bold" text-anchor="end" fill="#262626" stroke="#262626" stroke-width="0.45" textLength="23.59" lengthAdjust="spacingAndGlyphs">400</text>
<line x1="350.60" y1="98.40" x2="352.40" y2="98.40" stroke="#262626" stroke-width="1.50"/>
<line x1="495.40" y1="98.40" x2="493.60" y2="98.40" stroke="#262626" stroke-width="1.50"/>
<text x="343.20" y="102.50" font-size="11.60" font-weight="bold" text-anchor="end" fill="#262626" stroke="#262626" stroke-width="0.45" textLength="23.59" lengthAdjust="spacingAndGlyphs">600</text>
<line x1="350.60" y1="127.20" x2="352.40" y2="127.20" stroke="#262626" stroke-width="1.50"/>
<line x1="495.40" y1="127.20" x2="493.60" y2="127.20" stroke="#262626" stroke-width="1.50"/>
<text x="343.20" y="131.30" font-size="11.60" font-weight="bold" text-anchor="end" fill="#262626" stroke="#262626" stroke-width="0.45" textLength="23.59" lengthAdjust="spacingAndGlyphs">800</text>
<text x="343.20" y="160.10" font-size="11.60" font-weight="bold" text-anchor="end" fill="#262626" stroke="#262626" stroke-width="0.45" textLength="31.46" lengthAdjust="spacingAndGlyphs">1000</text>
<rect x="349.40" y="11.35" width="147.20" height="147.15" fill="none" stroke="#262626" stroke-width="2.50"/>
<text x="429.20" y="189.50" font-size="12.20" font-weight="bold" text-anchor="middle" fill="#262626" stroke="#262626" stroke-width="0.45" textLength="41.70" lengthAdjust="spacingAndGlyphs">y (pix)</text>
<text x="309.30" y="81.60" font-size="12.20" font-weight="bold" text-anchor="middle" fill="#262626" stroke="#262626" stroke-width="0.45" textLength="45.50" lengthAdjust="spacingAndGlyphs" transform="rotate(-90 309.30 81.60)">x (pix)</text>
<rect x="510.30" y="11.35" width="10.60" height="147.25" fill="url(#parv)"/>
<line x1="519.30" y1="123.00" x2="520.90" y2="123.00" stroke="#262626" stroke-width="1.50"/>
<line x1="519.30" y1="86.80" x2="520.90" y2="86.80" stroke="#262626" stroke-width="1.50"/>
<line x1="519.30" y1="51.30" x2="520.90" y2="51.30" stroke="#262626" stroke-width="1.50"/>
<line x1="519.30" y1="15.10" x2="520.90" y2="15.10" stroke="#262626" stroke-width="1.50"/>
<rect x="510.30" y="11.35" width="10.60" height="147.25" fill="none" stroke="#262626" stroke-width="2.50"/>
<text x="525.20" y="163.10" font-size="11.60" font-weight="bold" text-anchor="start" fill="#262626" stroke="#262626" stroke-width="0.45" textLength="7.86" lengthAdjust="spacingAndGlyphs">0</text>
<text x="525.20" y="127.10" font-size="11.60" font-weight="bold" text-anchor="start" fill="#262626" stroke="#262626" stroke-width="0.45" textLength="31.46" lengthAdjust="spacingAndGlyphs">1000</text>
<text x="525.20" y="90.90" font-size="11.60" font-weight="bold" text-anchor="start" fill="#262626" stroke="#262626" stroke-width="0.45" textLength="31.46" lengthAdjust="spacingAndGlyphs">2000</text>
<text x="525.20" y="55.40" font-size="11.60" font-weight="bold" text-anchor="start" fill="#262626" stroke="#262626" stroke-width="0.45" textLength="31.46" lengthAdjust="spacingAndGlyphs">3000</text>
<text x="525.20" y="19.20" font-size="11.60" font-weight="bold" text-anchor="start" fill="#262626" stroke="#262626" stroke-width="0.45" textLength="31.46" lengthAdjust="spacingAndGlyphs">4000</text>
<text x="571.60" y="82.50" font-size="12.80" font-weight="bold" text-anchor="middle" fill="#262626" stroke="#262626" stroke-width="0.45" textLength="81.70" lengthAdjust="spacingAndGlyphs" transform="rotate(-90 571.60 82.50)">PL (counts)</text>
<text x="-0.30" y="9.90" font-size="14.50" font-weight="normal" text-anchor="start" fill="#262626" stroke="#262626" stroke-width="0.35" textLength="18.00" lengthAdjust="spacingAndGlyphs">(a)</text>
<text x="295.30" y="9.90" font-size="14.50" font-weight="normal" text-anchor="start" fill="#262626" stroke="#262626" stroke-width="0.35" textLength="19.50" lengthAdjust="spacingAndGlyphs">(b)</text>
<g clip-path="url(#clip_c)"><g filter="url(#pmap2)">
<rect x="46.10" y="206.50" width="157.30" height="157.00" fill="#666666"/>
<rect x="51.10" y="212.80" width="147.30" height="3.80" fill="url(#bg_c_dim)"/>
<rect x="51.10" y="216.60" width="147.30" height="7.20" fill="url(#bg_c_bright)"/>
<rect x="51.10" y="226.40" width="147.30" height="9.40" fill="url(#bg_c_dim)"/>
<rect x="51.10" y="238.10" width="147.30" height="6.50" fill="url(#bg_c_dim)"/>
<rect x="51.10" y="244.60" width="147.30" height="7.40" fill="url(#bg_c_bright)"/>
<rect x="51.10" y="255.00" width="147.30" height="2.80" fill="url(#bg_c_dim)"/>
<rect x="51.10" y="257.80" width="147.30" height="6.40" fill="url(#bg_c_bright)"/>
<rect x="51.10" y="266.70" width="147.30" height="1.70" fill="url(#bg_c_dim)"/>
<rect x="51.10" y="268.40" width="147.30" height="5.00" fill="url(#bg_c_bright)"/>
<rect x="51.10" y="278.20" width="147.30" height="2.40" fill="url(#bg_c_dim)"/>
<rect x="51.10" y="280.60" width="147.30" height="6.60" fill="url(#bg_c_bright)"/>
<rect x="51.10" y="289.40" width="147.30" height="4.50" fill="url(#bg_c_dim)"/>
<rect x="51.10" y="293.90" width="147.30" height="3.90" fill="url(#bg_c_bright)"/>
<rect x="51.10" y="301.80" width="147.30" height="13.80" fill="url(#bg_c_bright)"/>
<rect x="51.10" y="315.60" width="147.30" height="2.40" fill="url(#bg_c_dim)"/>
<rect x="51.10" y="321.90" width="147.30" height="2.60" fill="url(#bg_c_dim)"/>
<rect x="51.10" y="326.60" width="147.30" height="8.60" fill="url(#bg_c_dim)"/>
<rect x="51.10" y="341.00" width="147.30" height="7.20" fill="url(#bg_c_bright)"/>
<rect x="51.10" y="353.00" width="147.30" height="4.50" fill="url(#bg_c_dim)"/>
<rect x="48.10" y="224.20" width="153.30" height="1.80" fill="#454545" filter="url(#b05)"/>
<rect x="48.10" y="236.20" width="153.30" height="1.50" fill="#454545" filter="url(#b05)"/>
<rect x="48.10" y="252.40" width="153.30" height="2.20" fill="#454545" filter="url(#b05)"/>
<rect x="48.10" y="264.70" width="153.30" height="1.60" fill="#454545" filter="url(#b05)"/>
<rect x="48.10" y="287.60" width="153.30" height="1.40" fill="#454545" filter="url(#b05)"/>
<rect x="48.10" y="298.30" width="153.30" height="3.00" fill="#454545" filter="url(#b05)"/>
<rect x="48.10" y="318.50" width="153.30" height="2.90" fill="#454545" filter="url(#b05)"/>
<rect x="48.10" y="324.90" width="153.30" height="1.30" fill="#454545" filter="url(#b05)"/>
<rect x="48.10" y="349.30" width="153.30" height="3.00" fill="#454545" filter="url(#b05)"/>
<g mask="url(#mk_c)">
<rect x="51.10" y="211.50" width="147.30" height="147.00" fill="url(#vt1)" opacity="0.80" filter="url(#b05)"/>
<rect x="51.10" y="212.80" width="147.30" height="3.80" fill="url(#gp2)"/>
<rect x="51.10" y="216.60" width="147.30" height="7.20" fill="url(#gp3)"/>
<rect x="51.10" y="223.90" width="147.30" height="2.40" fill="url(#gp4)"/>
<rect x="51.10" y="226.40" width="147.30" height="9.40" fill="url(#gp5)"/>
<rect x="51.10" y="235.90" width="147.30" height="2.10" fill="url(#gp6)"/>
<rect x="51.10" y="238.10" width="147.30" height="6.50" fill="url(#gp7)"/>
<rect x="51.10" y="244.60" width="147.30" height="7.40" fill="url(#gp8)"/>
<rect x="51.10" y="252.10" width="147.30" height="2.80" fill="url(#gp9)"/>
<rect x="51.10" y="255.00" width="147.30" height="2.80" fill="url(#gp10)"/>
<rect x="51.10" y="257.80" width="147.30" height="6.40" fill="url(#gp11)"/>
<rect x="51.10" y="264.40" width="147.30" height="2.20" fill="url(#gp12)"/>
<rect x="51.10" y="266.70" width="147.30" height="1.70" fill="url(#gp13)"/>
<rect x="51.10" y="268.40" width="147.30" height="5.00" fill="url(#gp14)"/>
<rect x="51.10" y="278.20" width="147.30" height="2.40" fill="url(#gp15)"/>
<rect x="51.10" y="280.60" width="147.30" height="6.60" fill="url(#gp16)"/>
<rect x="51.10" y="287.30" width="147.30" height="2.00" fill="url(#gp17)"/>
<rect x="51.10" y="289.40" width="147.30" height="4.50" fill="url(#gp18)"/>
<rect x="51.10" y="293.90" width="147.30" height="3.90" fill="url(#gp19)"/>
<rect x="51.10" y="298.00" width="147.30" height="3.60" fill="url(#gp20)"/>
<rect x="51.10" y="301.80" width="147.30" height="13.80" fill="url(#gp21)"/>
<rect x="51.10" y="315.60" width="147.30" height="2.40" fill="url(#gp22)"/>
<rect x="51.10" y="318.20" width="147.30" height="3.50" fill="url(#gp23)"/>
<rect x="51.10" y="321.90" width="147.30" height="2.60" fill="url(#gp24)"/>
<rect x="51.10" y="324.60" width="147.30" height="1.90" fill="url(#gp25)"/>
<rect x="51.10" y="326.60" width="147.30" height="8.60" fill="url(#gp26)"/>
<rect x="51.10" y="341.00" width="147.30" height="7.20" fill="url(#gp27)"/>
<rect x="51.10" y="349.00" width="147.30" height="3.60" fill="url(#gp28)"/>
<rect x="51.10" y="353.00" width="147.30" height="4.50" fill="url(#gp29)"/>
</g>
<rect x="51.10" y="211.50" width="147.30" height="147.00" filter="url(#texL)" opacity="0.18"/>
<rect x="51.10" y="211.50" width="147.30" height="147.00" filter="url(#texD)" opacity="0.18"/>
</g></g>
<line x1="69.00" y1="212.70" x2="69.00" y2="214.50" stroke="#262626" stroke-width="1.50"/>
<line x1="101.10" y1="212.70" x2="101.10" y2="214.50" stroke="#262626" stroke-width="1.50"/>
<line x1="133.90" y1="212.70" x2="133.90" y2="214.50" stroke="#262626" stroke-width="1.50"/>
<line x1="165.70" y1="212.70" x2="165.70" y2="214.50" stroke="#262626" stroke-width="1.50"/>
<line x1="79.80" y1="357.30" x2="79.80" y2="355.50" stroke="#262626" stroke-width="1.50"/>
<text x="82.60" y="370.20" font-size="11.60" font-weight="bold" text-anchor="middle" fill="#262626" stroke="#262626" stroke-width="0.45" textLength="7.86" lengthAdjust="spacingAndGlyphs">2</text>
<line x1="109.30" y1="357.30" x2="109.30" y2="355.50" stroke="#262626" stroke-width="1.50"/>
<text x="111.20" y="370.20" font-size="11.60" font-weight="bold" text-anchor="middle" fill="#262626" stroke="#262626" stroke-width="0.45" textLength="7.86" lengthAdjust="spacingAndGlyphs">4</text>
<line x1="138.80" y1="357.30" x2="138.80" y2="355.50" stroke="#262626" stroke-width="1.50"/>
<text x="140.40" y="370.20" font-size="11.60" font-weight="bold" text-anchor="middle" fill="#262626" stroke="#262626" stroke-width="0.45" textLength="7.86" lengthAdjust="spacingAndGlyphs">6</text>
<line x1="168.30" y1="357.30" x2="168.30" y2="355.50" stroke="#262626" stroke-width="1.50"/>
<text x="170.40" y="370.20" font-size="11.60" font-weight="bold" text-anchor="middle" fill="#262626" stroke="#262626" stroke-width="0.45" textLength="7.86" lengthAdjust="spacingAndGlyphs">8</text>
<text x="200.60" y="370.20" font-size="11.60" font-weight="bold" text-anchor="middle" fill="#262626" stroke="#262626" stroke-width="0.45" textLength="15.73" lengthAdjust="spacingAndGlyphs">10</text>
<text x="46.90" y="219.10" font-size="11.60" font-weight="bold" text-anchor="end" fill="#262626" stroke="#262626" stroke-width="0.45" textLength="23.59" lengthAdjust="spacingAndGlyphs">125</text>
<line x1="52.30" y1="260.40" x2="54.10" y2="260.40" stroke="#262626" stroke-width="1.50"/>
<line x1="197.20" y1="260.40" x2="195.40" y2="260.40" stroke="#262626" stroke-width="1.50"/>
<text x="46.90" y="265.30" font-size="11.60" font-weight="bold" text-anchor="end" fill="#262626" stroke="#262626" stroke-width="0.45" textLength="23.59" lengthAdjust="spacingAndGlyphs">325</text>
<line x1="52.30" y1="308.90" x2="54.10" y2="308.90" stroke="#262626" stroke-width="1.50"/>
<line x1="197.20" y1="308.90" x2="195.40" y2="308.90" stroke="#262626" stroke-width="1.50"/>
<text x="46.90" y="313.70" font-size="11.60" font-weight="bold" text-anchor="end" fill="#262626" stroke="#262626" stroke-width="0.45" textLength="23.59" lengthAdjust="spacingAndGlyphs">525</text>
<text x="46.90" y="361.90" font-size="11.60" font-weight="bold" text-anchor="end" fill="#262626" stroke="#262626" stroke-width="0.45" textLength="23.59" lengthAdjust="spacingAndGlyphs">725</text>
<rect x="51.10" y="211.50" width="147.30" height="147.00" fill="none" stroke="#262626" stroke-width="2.50"/>
<text x="123.60" y="387.70" font-size="12.20" font-weight="bold" text-anchor="middle" fill="#262626" stroke="#262626" stroke-width="0.45" textLength="46.00" lengthAdjust="spacingAndGlyphs">RF (μs)</text>
<g clip-path="url(#clip_d)"><g filter="url(#pmap2)">
<rect x="344.40" y="206.50" width="157.30" height="157.00" fill="#666666"/>
<rect x="349.40" y="246.50" width="147.30" height="5.80" fill="url(#bg_d_dim)"/>
<rect x="349.40" y="254.50" width="147.30" height="4.00" fill="url(#bg_d_dim)"/>
<rect x="349.40" y="258.50" width="147.30" height="5.50" fill="url(#bg_d_bright)"/>
<rect x="349.40" y="267.20" width="147.30" height="6.80" fill="url(#bg_d_bright)"/>
<rect x="349.40" y="280.50" width="147.30" height="6.80" fill="url(#bg_d_mid)"/>
<rect x="349.40" y="290.50" width="147.30" height="7.10" fill="url(#bg_d_mid)"/>
<rect x="349.40" y="302.00" width="147.30" height="13.50" fill="url(#bg_d_mid)"/>
<rect x="349.40" y="327.00" width="147.30" height="8.50" fill="url(#bg_d_dim)"/>
<rect x="349.40" y="339.50" width="147.30" height="10.00" fill="url(#bg_d_dim)"/>
<rect x="346.40" y="252.60" width="153.30" height="1.60" fill="#424242" filter="url(#b05)"/>
<rect x="346.40" y="264.30" width="153.30" height="2.60" fill="#4f4f4f" filter="url(#b05)"/>
<rect x="346.40" y="287.60" width="153.30" height="2.60" fill="#424242" filter="url(#b05)"/>
<rect x="346.40" y="298.10" width="153.30" height="3.60" fill="#424242" filter="url(#b05)"/>
<rect x="346.40" y="318.30" width="153.30" height="3.00" fill="#424242" filter="url(#b05)"/>
<rect x="346.40" y="324.10" width="153.30" height="2.60" fill="#424242" filter="url(#b05)"/>
<rect x="346.40" y="335.80" width="153.30" height="3.40" fill="#424242" filter="url(#b05)"/>
<rect x="346.40" y="349.80" width="153.30" height="5.40" fill="#333333" filter="url(#b05)"/>
<g mask="url(#mk_d)">
<rect x="349.40" y="246.50" width="147.30" height="5.80" fill="url(#gp30)"/>
<rect x="349.40" y="254.50" width="147.30" height="4.00" fill="url(#gp31)"/>
<rect x="349.40" y="258.50" width="147.30" height="5.50" fill="url(#gp32)"/>
<rect x="349.40" y="267.20" width="147.30" height="6.80" fill="url(#gp33)"/>
<rect x="349.40" y="280.50" width="147.30" height="6.80" fill="url(#gp34)"/>
<rect x="349.40" y="290.50" width="147.30" height="7.10" fill="url(#gp35)"/>
<rect x="349.40" y="302.00" width="147.30" height="13.50" fill="url(#gp36)"/>
<rect x="349.40" y="327.00" width="147.30" height="8.50" fill="url(#gp37)"/>
<rect x="349.40" y="339.50" width="147.30" height="10.00" fill="url(#gp38)"/>
</g>
<rect x="349.40" y="211.50" width="147.30" height="147.00" filter="url(#texL)" opacity="0.18"/>
<rect x="349.40" y="211.50" width="147.30" height="147.00" filter="url(#texD)" opacity="0.18"/>
<rect x="346.40" y="243.30" width="153.30" height="3.60" fill="#4f4f4f" filter="url(#b05)"/>
<rect x="349.40" y="211.50" width="147.30" height="33.50" filter="url(#noiseD)"/>
<rect x="349.40" y="211.50" width="147.30" height="33.50" filter="url(#noiseS)"/>
<rect x="349.40" y="211.50" width="147.30" height="33.50" filter="url(#noiseY)" mask="url(#mk_dy)"/>
<rect x="349.40" y="210.50" width="147.30" height="4.20" fill="url(#dtop)" opacity="0.75" filter="url(#b05)"/>
<rect x="349.40" y="238.50" width="147.30" height="6.60" fill="url(#dbot)" opacity="0.7"/>
</g></g>
<line x1="378.10" y1="357.30" x2="378.10" y2="355.50" stroke="#262626" stroke-width="1.50"/>
<line x1="378.10" y1="212.70" x2="378.10" y2="214.50" stroke="#262626" stroke-width="1.50"/>
<text x="379.30" y="370.20" font-size="11.60" font-weight="bold" text-anchor="middle" fill="#262626" stroke="#262626" stroke-width="0.45" textLength="7.86" lengthAdjust="spacingAndGlyphs">2</text>
<line x1="407.60" y1="357.30" x2="407.60" y2="355.50" stroke="#262626" stroke-width="1.50"/>
<line x1="407.60" y1="212.70" x2="407.60" y2="214.50" stroke="#262626" stroke-width="1.50"/>
<text x="408.50" y="370.20" font-size="11.60" font-weight="bold" text-anchor="middle" fill="#262626" stroke="#262626" stroke-width="0.45" textLength="7.86" lengthAdjust="spacingAndGlyphs">4</text>
<line x1="437.10" y1="357.30" x2="437.10" y2="355.50" stroke="#262626" stroke-width="1.50"/>
<line x1="437.10" y1="212.70" x2="437.10" y2="214.50" stroke="#262626" stroke-width="1.50"/>
<text x="438.20" y="370.20" font-size="11.60" font-weight="bold" text-anchor="middle" fill="#262626" stroke="#262626" stroke-width="0.45" textLength="7.86" lengthAdjust="spacingAndGlyphs">6</text>
<line x1="466.60" y1="357.30" x2="466.60" y2="355.50" stroke="#262626" stroke-width="1.50"/>
<line x1="466.60" y1="212.70" x2="466.60" y2="214.50" stroke="#262626" stroke-width="1.50"/>
<text x="468.20" y="370.20" font-size="11.60" font-weight="bold" text-anchor="middle" fill="#262626" stroke="#262626" stroke-width="0.45" textLength="7.86" lengthAdjust="spacingAndGlyphs">8</text>
<text x="498.20" y="370.20" font-size="11.60" font-weight="bold" text-anchor="middle" fill="#262626" stroke="#262626" stroke-width="0.45" textLength="15.73" lengthAdjust="spacingAndGlyphs">10</text>
<text x="345.50" y="219.10" font-size="11.60" font-weight="bold" text-anchor="end" fill="#262626" stroke="#262626" stroke-width="0.45" textLength="23.59" lengthAdjust="spacingAndGlyphs">125</text>
<line x1="350.60" y1="260.40" x2="352.40" y2="260.40" stroke="#262626" stroke-width="1.50"/>
<line x1="495.50" y1="260.40" x2="493.70" y2="260.40" stroke="#262626" stroke-width="1.50"/>
<text x="345.50" y="265.30" font-size="11.60" font-weight="bold" text-anchor="end" fill="#262626" stroke="#262626" stroke-width="0.45" textLength="23.59" lengthAdjust="spacingAndGlyphs">325</text>
<line x1="350.60" y1="308.90" x2="352.40" y2="308.90" stroke="#262626" stroke-width="1.50"/>
<line x1="495.50" y1="308.90" x2="493.70" y2="308.90" stroke="#262626" stroke-width="1.50"/>
<text x="345.50" y="313.70" font-size="11.60" font-weight="bold" text-anchor="end" fill="#262626" stroke="#262626" stroke-width="0.45" textLength="23.59" lengthAdjust="spacingAndGlyphs">525</text>
<text x="345.50" y="361.90" font-size="11.60" font-weight="bold" text-anchor="end" fill="#262626" stroke="#262626" stroke-width="0.45" textLength="23.59" lengthAdjust="spacingAndGlyphs">725</text>
<rect x="349.40" y="211.50" width="147.30" height="147.00" fill="none" stroke="#262626" stroke-width="2.50"/>
<text x="422.60" y="384.70" font-size="12.20" font-weight="bold" text-anchor="middle" fill="#262626" stroke="#262626" stroke-width="0.45" textLength="46.00" lengthAdjust="spacingAndGlyphs">RF (μs)</text>
<text x="12.00" y="281.50" font-size="12.20" font-weight="bold" text-anchor="middle" fill="#262626" stroke="#262626" stroke-width="0.45" textLength="45.50" lengthAdjust="spacingAndGlyphs" transform="rotate(-90 12.00 281.50)">x (pix)</text>
<text x="-0.20" y="206.30" font-size="14.50" font-weight="normal" text-anchor="start" fill="#262626" stroke="#262626" stroke-width="0.35" textLength="17.40" lengthAdjust="spacingAndGlyphs">(c)</text>
<rect x="212.20" y="213.40" width="10.60" height="144.00" fill="url(#parv)"/>
<line x1="221.20" y1="220.10" x2="222.80" y2="220.10" stroke="#262626" stroke-width="1.50"/>
<line x1="221.20" y1="257.50" x2="222.80" y2="257.50" stroke="#262626" stroke-width="1.50"/>
<line x1="221.20" y1="294.30" x2="222.80" y2="294.30" stroke="#262626" stroke-width="1.50"/>
<line x1="221.20" y1="331.60" x2="222.80" y2="331.60" stroke="#262626" stroke-width="1.50"/>
<rect x="212.20" y="213.40" width="10.60" height="144.00" fill="none" stroke="#262626" stroke-width="2.50"/>
<text x="226.60" y="224.20" font-size="11.60" font-weight="bold" text-anchor="start" fill="#262626" stroke="#262626" stroke-width="0.45" textLength="27.89" lengthAdjust="spacingAndGlyphs">0.02</text>
<text x="226.60" y="261.60" font-size="11.60" font-weight="bold" text-anchor="start" fill="#262626" stroke="#262626" stroke-width="0.45" textLength="35.75" lengthAdjust="spacingAndGlyphs">0.015</text>
<text x="226.60" y="298.40" font-size="11.60" font-weight="bold" text-anchor="start" fill="#262626" stroke="#262626" stroke-width="0.45" textLength="27.89" lengthAdjust="spacingAndGlyphs">0.01</text>
<text x="226.60" y="335.70" font-size="11.60" font-weight="bold" text-anchor="start" fill="#262626" stroke="#262626" stroke-width="0.45" textLength="35.75" lengthAdjust="spacingAndGlyphs">0.005</text>
<text x="274.40" y="283.30" font-size="12.80" font-weight="bold" text-anchor="middle" fill="#262626" stroke="#262626" stroke-width="0.45" textLength="60.00" lengthAdjust="spacingAndGlyphs" transform="rotate(-90 274.40 283.30)">Contrast</text>
<rect x="510.80" y="213.60" width="11.00" height="144.70" fill="url(#parv)"/>
<line x1="520.20" y1="216.60" x2="521.80" y2="216.60" stroke="#262626" stroke-width="1.50"/>
<line x1="520.20" y1="261.60" x2="521.80" y2="261.60" stroke="#262626" stroke-width="1.50"/>
<line x1="520.20" y1="310.40" x2="521.80" y2="310.40" stroke="#262626" stroke-width="1.50"/>
<rect x="510.80" y="213.60" width="11.00" height="144.70" fill="none" stroke="#262626" stroke-width="2.50"/>
<text x="524.90" y="220.70" font-size="11.60" font-weight="bold" text-anchor="start" fill="#262626" stroke="#262626" stroke-width="0.45" textLength="35.75" lengthAdjust="spacingAndGlyphs">0.015</text>
<text x="524.90" y="265.70" font-size="11.60" font-weight="bold" text-anchor="start" fill="#262626" stroke="#262626" stroke-width="0.45" textLength="27.89" lengthAdjust="spacingAndGlyphs">0.01</text>
<text x="524.90" y="314.50" font-size="11.60" font-weight="bold" text-anchor="start" fill="#262626" stroke="#262626" stroke-width="0.45" textLength="35.75" lengthAdjust="spacingAndGlyphs">0.005</text>
<text x="524.90" y="363.10" font-size="11.60" font-weight="bold" text-anchor="start" fill="#262626" stroke="#262626" stroke-width="0.45" textLength="7.86" lengthAdjust="spacingAndGlyphs">0</text>
<text x="572.60" y="279.50" font-size="12.80" font-weight="bold" text-anchor="middle" fill="#262626" stroke="#262626" stroke-width="0.45" textLength="60.00" lengthAdjust="spacingAndGlyphs" transform="rotate(-90 572.60 279.50)">Contrast</text>
<text x="310.50" y="281.50" font-size="12.20" font-weight="bold" text-anchor="middle" fill="#262626" stroke="#262626" stroke-width="0.45" textLength="45.50" lengthAdjust="spacingAndGlyphs" transform="rotate(-90 310.50 281.50)">x (pix)</text>
<text x="295.80" y="206.30" font-size="14.50" font-weight="normal" text-anchor="start" fill="#262626" stroke="#262626" stroke-width="0.35" textLength="19.40" lengthAdjust="spacingAndGlyphs">(d)</text>
<line x1="47.50" y1="529.20" x2="49.30" y2="529.20" stroke="#000" stroke-width="1.5"/>
<line x1="47.50" y1="499.20" x2="49.30" y2="499.20" stroke="#000" stroke-width="1.5"/>
<line x1="47.50" y1="469.20" x2="49.30" y2="469.20" stroke="#000" stroke-width="1.5"/>
<line x1="47.50" y1="439.20" x2="49.30" y2="439.20" stroke="#000" stroke-width="1.5"/>
<line x1="194.40" y1="535.20" x2="192.60" y2="535.20" stroke="#000" stroke-width="1.5"/>
<line x1="194.40" y1="511.40" x2="192.60" y2="511.40" stroke="#000" stroke-width="1.5"/>
<line x1="194.40" y1="487.60" x2="192.60" y2="487.60" stroke="#000" stroke-width="1.5"/>
<line x1="194.40" y1="463.80" x2="192.60" y2="463.80" stroke="#000" stroke-width="1.5"/>
<line x1="194.40" y1="440.00" x2="192.60" y2="440.00" stroke="#000" stroke-width="1.5"/>
<line x1="95.70" y1="557.20" x2="95.70" y2="555.40" stroke="#000" stroke-width="1.5"/>
<line x1="95.70" y1="410.60" x2="95.70" y2="412.40" stroke="#000" stroke-width="1.5"/>
<line x1="145.40" y1="557.20" x2="145.40" y2="555.40" stroke="#000" stroke-width="1.5"/>
<line x1="145.40" y1="410.60" x2="145.40" y2="412.40" stroke="#000" stroke-width="1.5"/>
<g clip-path="url(#clip_e)">
<rect x="40.00" y="431.80" width="32.00" height="12.90" fill="rgb(0,0,255)"/>
<rect x="69.20" y="425.70" width="32.10" height="13.20" fill="rgb(0,0,255)"/>
<rect x="99.20" y="419.40" width="71.80" height="13.10" fill="rgb(0,0,255)"/>
<rect x="169.30" y="425.60" width="14.30" height="13.10" fill="rgb(0,0,255)"/>
<rect x="181.90" y="432.00" width="7.60" height="12.60" fill="rgb(0,0,255)"/>
<rect x="188.30" y="437.80" width="11.70" height="12.70" fill="rgb(0,0,255)"/>
<circle cx="72.60" cy="442.20" r="1.6" fill="#fff"/>
<circle cx="69.00" cy="427.90" r="1.6" fill="#fff"/>
<circle cx="101.80" cy="436.40" r="1.6" fill="#fff"/>
<circle cx="99.00" cy="421.60" r="1.6" fill="#fff"/>
<circle cx="171.50" cy="421.80" r="1.6" fill="#fff"/>
<circle cx="184.10" cy="427.80" r="1.6" fill="#fff"/>
<circle cx="182.00" cy="442.40" r="1.6" fill="#fff"/>
<circle cx="190.00" cy="434.30" r="1.6" fill="#fff"/>
<circle cx="188.20" cy="448.30" r="1.6" fill="#fff"/>
<rect x="83.10" y="427.00" width="3.60" height="2.90" fill="rgb(80,80,250)"/>
<rect x="88.00" y="427.00" width="3.60" height="2.90" fill="rgb(80,80,250)"/>
<rect x="83.10" y="434.80" width="3.60" height="2.90" fill="rgb(80,80,250)"/>
<rect x="88.00" y="434.80" width="3.60" height="2.90" fill="rgb(80,80,250)"/>
<rect x="145.00" y="421.00" width="3.60" height="2.90" fill="rgb(80,80,250)"/>
<rect x="149.20" y="421.00" width="3.60" height="2.90" fill="rgb(80,80,250)"/>
<rect x="145.00" y="428.40" width="3.60" height="2.90" fill="rgb(80,80,250)"/>
<rect x="149.20" y="428.40" width="3.60" height="2.90" fill="rgb(80,80,250)"/>
</g>
<rect x="46.30" y="409.40" width="149.30" height="149.00" fill="none" stroke="#000" stroke-width="2.50"/>
<text x="43.60" y="563.30" font-size="11.60" font-weight="bold" text-anchor="end" fill="#000" stroke="#000" stroke-width="0.45" textLength="7.86" lengthAdjust="spacingAndGlyphs">0</text>
<text x="43.60" y="533.40" font-size="11.60" font-weight="bold" text-anchor="end" fill="#000" stroke="#000" stroke-width="0.45" textLength="20.02" lengthAdjust="spacingAndGlyphs">0.5</text>
<text x="43.60" y="503.10" font-size="11.60" font-weight="bold" text-anchor="end" fill="#000" stroke="#000" stroke-width="0.45" textLength="7.86" lengthAdjust="spacingAndGlyphs">1</text>
<text x="43.60" y="474.30" font-size="11.60" font-weight="bold" text-anchor="end" fill="#000" stroke="#000" stroke-width="0.45" textLength="20.02" lengthAdjust="spacingAndGlyphs">1.5</text>
<text x="43.60" y="440.90" font-size="11.60" font-weight="bold" text-anchor="end" fill="#000" stroke="#000" stroke-width="0.45" textLength="7.86" lengthAdjust="spacingAndGlyphs">2</text>
<text x="201.50" y="563.70" font-size="11.60" font-weight="bold" text-anchor="start" fill="#000" stroke="#000" stroke-width="0.45" textLength="7.86" lengthAdjust="spacingAndGlyphs">0</text>
<text x="201.50" y="540.90" font-size="11.60" font-weight="bold" text-anchor="start" fill="#000" stroke="#000" stroke-width="0.45" textLength="15.73" lengthAdjust="spacingAndGlyphs">20</text>
<text x="201.50" y="515.20" font-size="11.60" font-weight="bold" text-anchor="start" fill="#000" stroke="#000" stroke-width="0.45" textLength="15.73" lengthAdjust="spacingAndGlyphs">40</text>
<text x="201.50" y="492.40" font-size="11.60" font-weight="bold" text-anchor="start" fill="#000" stroke="#000" stroke-width="0.45" textLength="15.73" lengthAdjust="spacingAndGlyphs">60</text>
<text x="201.50" y="470.40" font-size="11.60" font-weight="bold" text-anchor="start" fill="#000" stroke="#000" stroke-width="0.45" textLength="15.73" lengthAdjust="spacingAndGlyphs">80</text>
<text x="201.50" y="443.00" font-size="11.60" font-weight="bold" text-anchor="start" fill="#000" stroke="#000" stroke-width="0.45" textLength="23.59" lengthAdjust="spacingAndGlyphs">100</text>
<text x="47.80" y="576.30" font-size="11.60" font-weight="bold" text-anchor="middle" fill="#000" stroke="#000" stroke-width="0.45" textLength="23.59" lengthAdjust="spacingAndGlyphs">125</text>
<text x="93.20" y="576.30" font-size="11.60" font-weight="bold" text-anchor="middle" fill="#000" stroke="#000" stroke-width="0.45" textLength="23.59" lengthAdjust="spacingAndGlyphs">325</text>
<text x="145.00" y="576.30" font-size="11.60" font-weight="bold" text-anchor="middle" fill="#000" stroke="#000" stroke-width="0.45" textLength="23.59" lengthAdjust="spacingAndGlyphs">525</text>
<text x="193.60" y="576.30" font-size="11.60" font-weight="bold" text-anchor="middle" fill="#000" stroke="#000" stroke-width="0.45" textLength="23.59" lengthAdjust="spacingAndGlyphs">725</text>
<text x="121.00" y="589.90" font-size="11.80" font-weight="bold" text-anchor="middle" fill="#000" stroke="#000" stroke-width="0.45" textLength="41.50" lengthAdjust="spacingAndGlyphs">x (pix)</text>
<text x="246.00" y="487.50" font-size="12.80" font-weight="bold" text-anchor="middle" fill="#000" stroke="#000" stroke-width="0.45" textLength="89.00" lengthAdjust="spacingAndGlyphs" transform="rotate(-90 246.00 487.50)">RF field (μT)</text>
<text x="-0.40" y="403.40" font-size="14.50" font-weight="normal" text-anchor="start" fill="#000" stroke="#000" stroke-width="0.35" textLength="18.20" lengthAdjust="spacingAndGlyphs">(e)</text>
<line x1="350.30" y1="528.55" x2="352.10" y2="528.55" stroke="#000" stroke-width="1.5"/>
<line x1="350.30" y1="499.30" x2="352.10" y2="499.30" stroke="#000" stroke-width="1.5"/>
<line x1="350.30" y1="470.05" x2="352.10" y2="470.05" stroke="#000" stroke-width="1.5"/>
<line x1="350.30" y1="440.80" x2="352.10" y2="440.80" stroke="#000" stroke-width="1.5"/>
<line x1="497.70" y1="534.16" x2="495.90" y2="534.16" stroke="#000" stroke-width="1.5"/>
<line x1="497.70" y1="510.32" x2="495.90" y2="510.32" stroke="#000" stroke-width="1.5"/>
<line x1="497.70" y1="486.48" x2="495.90" y2="486.48" stroke="#000" stroke-width="1.5"/>
<line x1="497.70" y1="462.64" x2="495.90" y2="462.64" stroke="#000" stroke-width="1.5"/>
<line x1="497.70" y1="438.80" x2="495.90" y2="438.80" stroke="#000" stroke-width="1.5"/>
<line x1="357.40" y1="556.80" x2="357.40" y2="555.00" stroke="#000" stroke-width="1.5"/>
<line x1="357.40" y1="410.40" x2="357.40" y2="412.20" stroke="#000" stroke-width="1.5"/>
<line x1="407.00" y1="556.80" x2="407.00" y2="555.00" stroke="#000" stroke-width="1.5"/>
<line x1="407.00" y1="410.40" x2="407.00" y2="412.20" stroke="#000" stroke-width="1.5"/>
<line x1="456.60" y1="556.80" x2="456.60" y2="555.00" stroke="#000" stroke-width="1.5"/>
<line x1="456.60" y1="410.40" x2="456.60" y2="412.20" stroke="#000" stroke-width="1.5"/>
<g clip-path="url(#clip_f)">
<polygon points="349.00,409.00 350.20,409.60 351.00,413.40 352.60,413.40 352.60,415.00 351.40,415.40 353.20,419.40 354.80,419.40 354.80,421.00 353.60,421.40 355.40,425.50 357.00,425.50 357.00,427.10 355.80,427.50 358.20,431.60 359.80,431.60 359.80,433.20 358.60,433.60 361.60,437.70 363.20,437.70 363.20,439.30 362.00,439.70 364.40,443.80 366.00,443.80 366.00,445.40 364.80,445.80 367.90,449.30 369.50,449.30 369.50,450.90 368.30,451.30 371.70,455.40 373.30,455.40 373.30,457.00 372.10,457.40 375.80,461.50 377.40,461.50 377.40,463.10 376.20,463.50 380.80,467.00 382.40,467.00 382.40,468.60 381.20,469.00 385.00,472.50 388.50,473.00 390.00,478.50 393.50,479.00 396.00,485.00 399.50,485.50 402.00,490.50 406.00,491.00 408.00,493.50 413.00,494.00 415.00,496.50 420.50,497.00 422.00,500.50 426.00,501.00 428.00,505.50 431.00,506.00 432.00,509.00 457.20,509.60 458.00,513.00 460.40,516.40 473.80,516.80 474.00,521.20 486.00,521.20 486.50,531.00 500.00,531.00 500.00,548.00 480.20,548.00 480.00,541.40 452.00,541.40 451.90,535.00 438.50,534.10 438.50,530.50 435.00,530.00 434.50,524.00 428.00,523.70 428.00,517.80 417.60,517.40 417.60,511.50 400.90,511.00 399.00,505.50 395.50,505.00 394.00,500.00 390.40,499.70 388.50,493.40 385.00,493.00 383.50,487.40 380.00,487.00 377.50,484.50 376.00,480.50 372.80,480.10 371.50,475.40 369.00,475.00 368.00,470.80 365.20,470.40 364.20,467.70 363.20,465.00 361.00,464.70 360.60,460.00 358.80,459.60 358.20,455.00 356.00,454.60 355.40,448.90 353.00,448.50 352.20,442.80 350.00,442.40 349.00,437.40 349.00,418.00" fill="rgb(0,0,255)"/>
<circle cx="400.90" cy="504.90" r="3.60" fill="rgb(0,0,255)"/>
<circle cx="440.30" cy="527.90" r="3.80" fill="rgb(0,0,255)"/>
<circle cx="446.00" cy="528.50" r="3.50" fill="rgb(0,0,255)"/>
<circle cx="363.00" cy="467.00" r="3.00" fill="rgb(0,0,255)"/>
<circle cx="355.00" cy="444.50" r="2.80" fill="rgb(0,0,255)"/>
<circle cx="415.5" cy="551.9" r="3.6" fill="rgb(0,0,255)"/>
<rect x="414.50" y="545.00" width="2.00" height="13.00" fill="rgb(0,0,255)"/>
<rect x="412.00" y="544.60" width="7.00" height="1.80" fill="rgb(0,0,255)"/>
<path d="M349.00,407.00 C349.07,407.40 348.90,406.73 349.40,409.40 C349.90,412.07 351.07,419.02 352.00,423.00 C352.93,426.98 353.95,429.97 355.00,433.30 C356.05,436.63 357.10,439.97 358.30,443.00 C359.50,446.03 360.92,448.75 362.20,451.50 C363.48,454.25 364.65,456.92 366.00,459.50 C367.35,462.08 368.72,464.42 370.30,467.00 C371.88,469.58 373.68,472.20 375.50,475.00 C377.32,477.80 378.78,480.80 381.20,483.80 C383.62,486.80 386.72,490.05 390.00,493.00 C393.28,495.95 397.40,499.08 400.90,501.50 C404.40,503.92 407.52,505.72 411.00,507.50 C414.48,509.28 418.30,510.75 421.80,512.20 C425.30,513.65 428.53,514.98 432.00,516.20 C435.47,517.42 439.10,518.40 442.60,519.50 C446.10,520.60 449.52,521.78 453.00,522.80 C456.48,523.82 460.00,524.77 463.50,525.60 C467.00,526.43 470.52,527.15 474.00,527.80 C477.48,528.45 480.40,528.87 484.40,529.50 C488.40,530.13 495.23,531.18 498.00,531.60 C500.77,532.02 500.50,531.93 501.00,532.00" fill="none" stroke="rgb(245,10,30)" stroke-width="2.6" stroke-linecap="round"/>
</g>
<rect x="349.10" y="409.20" width="149.80" height="148.80" fill="none" stroke="#000" stroke-width="2.50"/>
<text x="346.50" y="561.40" font-size="11.60" font-weight="bold" text-anchor="end" fill="#000" stroke="#000" stroke-width="0.45" textLength="7.86" lengthAdjust="spacingAndGlyphs">0</text>
<text x="346.50" y="533.10" font-size="11.60" font-weight="bold" text-anchor="end" fill="#000" stroke="#000" stroke-width="0.45" textLength="20.02" lengthAdjust="spacingAndGlyphs">0.5</text>
<text x="346.50" y="504.60" font-size="11.60" font-weight="bold" text-anchor="end" fill="#000" stroke="#000" stroke-width="0.45" textLength="7.86" lengthAdjust="spacingAndGlyphs">1</text>
<text x="346.50" y="476.40" font-size="11.60" font-weight="bold" text-anchor="end" fill="#000" stroke="#000" stroke-width="0.45" textLength="20.02" lengthAdjust="spacingAndGlyphs">1.5</text>
<text x="346.50" y="445.20" font-size="11.60" font-weight="bold" text-anchor="end" fill="#000" stroke="#000" stroke-width="0.45" textLength="7.86" lengthAdjust="spacingAndGlyphs">2</text>
<text x="502.90" y="561.50" font-size="11.60" font-weight="bold" text-anchor="start" fill="#000" stroke="#000" stroke-width="0.45" textLength="7.86" lengthAdjust="spacingAndGlyphs">0</text>
<text x="502.90" y="540.50" font-size="11.60" font-weight="bold" text-anchor="start" fill="#000" stroke="#000" stroke-width="0.45" textLength="15.73" lengthAdjust="spacingAndGlyphs">20</text>
<text x="502.90" y="515.50" font-size="11.60" font-weight="bold" text-anchor="start" fill="#000" stroke="#000" stroke-width="0.45" textLength="15.73" lengthAdjust="spacingAndGlyphs">40</text>
<text x="502.90" y="492.60" font-size="11.60" font-weight="bold" text-anchor="start" fill="#000" stroke="#000" stroke-width="0.45" textLength="15.73" lengthAdjust="spacingAndGlyphs">60</text>
<text x="502.90" y="467.90" font-size="11.60" font-weight="bold" text-anchor="start" fill="#000" stroke="#000" stroke-width="0.45" textLength="15.73" lengthAdjust="spacingAndGlyphs">80</text>
<text x="502.90" y="442.90" font-size="11.60" font-weight="bold" text-anchor="start" fill="#000" stroke="#000" stroke-width="0.45" textLength="23.59" lengthAdjust="spacingAndGlyphs">100</text>
<text x="357.40" y="576.00" font-size="11.60" font-weight="bold" text-anchor="middle" fill="#000" stroke="#000" stroke-width="0.45" textLength="23.59" lengthAdjust="spacingAndGlyphs">300</text>
<text x="407.00" y="576.00" font-size="11.60" font-weight="bold" text-anchor="middle" fill="#000" stroke="#000" stroke-width="0.45" textLength="23.59" lengthAdjust="spacingAndGlyphs">450</text>
<text x="456.60" y="576.00" font-size="11.60" font-weight="bold" text-anchor="middle" fill="#000" stroke="#000" stroke-width="0.45" textLength="23.59" lengthAdjust="spacingAndGlyphs">600</text>
<text x="497.70" y="576.00" font-size="11.60" font-weight="bold" text-anchor="middle" fill="#000" stroke="#000" stroke-width="0.45" textLength="23.59" lengthAdjust="spacingAndGlyphs">725</text>
<text x="424.50" y="589.90" font-size="11.80" font-weight="bold" text-anchor="middle" fill="#000" stroke="#000" stroke-width="0.45" textLength="41.50" lengthAdjust="spacingAndGlyphs">x (pix)</text>
<text x="542.00" y="488.20" font-size="12.80" font-weight="bold" text-anchor="middle" fill="#000" stroke="#000" stroke-width="0.45" textLength="88.00" lengthAdjust="spacingAndGlyphs" transform="rotate(-90 542.00 488.20)">RF field (μT)</text>
<text x="295.80" y="403.40" font-size="14.50" font-weight="normal" text-anchor="start" fill="#000" stroke="#000" stroke-width="0.35" textLength="16.40" lengthAdjust="spacingAndGlyphs">(f)</text>
<text transform="translate(11.00,491.50) rotate(-90)" style="font-family:'Liberation Serif',serif" font-size="13" font-weight="normal" fill="#000" stroke="#000" stroke-width="0.3" text-anchor="middle"><tspan>ν</tspan><tspan font-size="8.5" dy="2.5">R</tspan><tspan dy="-2.5"> (MHz)</tspan></text>
<text transform="translate(309.50,491.80) rotate(-90)" style="font-family:'Liberation Serif',serif" font-size="13" font-weight="normal" fill="#000" stroke="#000" stroke-width="0.3" text-anchor="middle"><tspan>ν</tspan><tspan font-size="8.5" dy="2.5">R</tspan><tspan dy="-2.5"> (MHz)</tspan></text>
</svg>
</body></html>
